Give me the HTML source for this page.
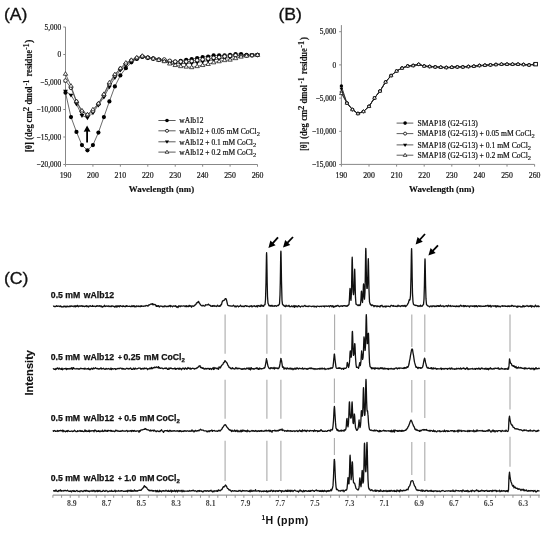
<!DOCTYPE html>
<html><head><meta charset="utf-8"><title>CD and NMR figure</title>
<style>html,body{margin:0;padding:0;background:#fff;}svg{display:block;}</style></head>
<body><svg width="550" height="533" viewBox="0 0 550 533"><text transform="translate(3.9,20.1) scale(1.04,1)" font-family="'Liberation Sans', Arial, sans-serif" font-size="17" fill="#111" stroke="#111" stroke-width="0.3">(A)</text>
<text transform="translate(278.4,20.1) scale(1.04,1)" font-family="'Liberation Sans', Arial, sans-serif" font-size="17" fill="#111" stroke="#111" stroke-width="0.3">(B)</text>
<line x1="65.5" y1="27.00" x2="65.5" y2="164.5" stroke="#888" stroke-width="1"/><line x1="65.5" y1="164.5" x2="257.51" y2="164.5" stroke="#888" stroke-width="1"/><line x1="63.3" y1="27.00" x2="65.5" y2="27.00" stroke="#888" stroke-width="1"/><text x="61.1" y="29.60" text-anchor="end" font-family="'Liberation Serif', 'Times New Roman', serif" font-size="7.4" fill="#222" stroke="#222" stroke-width="0.22">5,000</text><line x1="63.3" y1="54.50" x2="65.5" y2="54.50" stroke="#888" stroke-width="1"/><text x="61.1" y="57.10" text-anchor="end" font-family="'Liberation Serif', 'Times New Roman', serif" font-size="7.4" fill="#222" stroke="#222" stroke-width="0.22">0</text><line x1="63.3" y1="82.00" x2="65.5" y2="82.00" stroke="#888" stroke-width="1"/><text x="61.1" y="84.60" text-anchor="end" font-family="'Liberation Serif', 'Times New Roman', serif" font-size="7.4" fill="#222" stroke="#222" stroke-width="0.22">−5,000</text><line x1="63.3" y1="109.50" x2="65.5" y2="109.50" stroke="#888" stroke-width="1"/><text x="61.1" y="112.10" text-anchor="end" font-family="'Liberation Serif', 'Times New Roman', serif" font-size="7.4" fill="#222" stroke="#222" stroke-width="0.22">−10,000</text><line x1="63.3" y1="137.00" x2="65.5" y2="137.00" stroke="#888" stroke-width="1"/><text x="61.1" y="139.60" text-anchor="end" font-family="'Liberation Serif', 'Times New Roman', serif" font-size="7.4" fill="#222" stroke="#222" stroke-width="0.22">−15,000</text><line x1="63.3" y1="164.50" x2="65.5" y2="164.50" stroke="#888" stroke-width="1"/><text x="61.1" y="167.10" text-anchor="end" font-family="'Liberation Serif', 'Times New Roman', serif" font-size="7.4" fill="#222" stroke="#222" stroke-width="0.22">−20,000</text><line x1="65.50" y1="164.5" x2="65.50" y2="166.7" stroke="#888" stroke-width="1"/><text x="65.50" y="177.8" text-anchor="middle" font-family="'Liberation Serif', 'Times New Roman', serif" font-size="7.8" fill="#222" stroke="#222" stroke-width="0.22">190</text><line x1="92.93" y1="164.5" x2="92.93" y2="166.7" stroke="#888" stroke-width="1"/><text x="92.93" y="177.8" text-anchor="middle" font-family="'Liberation Serif', 'Times New Roman', serif" font-size="7.8" fill="#222" stroke="#222" stroke-width="0.22">200</text><line x1="120.36" y1="164.5" x2="120.36" y2="166.7" stroke="#888" stroke-width="1"/><text x="120.36" y="177.8" text-anchor="middle" font-family="'Liberation Serif', 'Times New Roman', serif" font-size="7.8" fill="#222" stroke="#222" stroke-width="0.22">210</text><line x1="147.79" y1="164.5" x2="147.79" y2="166.7" stroke="#888" stroke-width="1"/><text x="147.79" y="177.8" text-anchor="middle" font-family="'Liberation Serif', 'Times New Roman', serif" font-size="7.8" fill="#222" stroke="#222" stroke-width="0.22">220</text><line x1="175.22" y1="164.5" x2="175.22" y2="166.7" stroke="#888" stroke-width="1"/><text x="175.22" y="177.8" text-anchor="middle" font-family="'Liberation Serif', 'Times New Roman', serif" font-size="7.8" fill="#222" stroke="#222" stroke-width="0.22">230</text><line x1="202.65" y1="164.5" x2="202.65" y2="166.7" stroke="#888" stroke-width="1"/><text x="202.65" y="177.8" text-anchor="middle" font-family="'Liberation Serif', 'Times New Roman', serif" font-size="7.8" fill="#222" stroke="#222" stroke-width="0.22">240</text><line x1="230.08" y1="164.5" x2="230.08" y2="166.7" stroke="#888" stroke-width="1"/><text x="230.08" y="177.8" text-anchor="middle" font-family="'Liberation Serif', 'Times New Roman', serif" font-size="7.8" fill="#222" stroke="#222" stroke-width="0.22">250</text><line x1="257.51" y1="164.5" x2="257.51" y2="166.7" stroke="#888" stroke-width="1"/><text x="257.51" y="177.8" text-anchor="middle" font-family="'Liberation Serif', 'Times New Roman', serif" font-size="7.8" fill="#222" stroke="#222" stroke-width="0.22">260</text>
<line x1="341.4" y1="25.10" x2="341.4" y2="164.4" stroke="#888" stroke-width="1"/><line x1="341.4" y1="164.4" x2="534.60" y2="164.4" stroke="#888" stroke-width="1"/><line x1="339.2" y1="31.70" x2="341.4" y2="31.70" stroke="#888" stroke-width="1"/><text x="336.2" y="34.30" text-anchor="end" font-family="'Liberation Serif', 'Times New Roman', serif" font-size="7.3" fill="#222" stroke="#222" stroke-width="0.22">5,000</text><line x1="339.2" y1="64.90" x2="341.4" y2="64.90" stroke="#888" stroke-width="1"/><text x="336.2" y="67.50" text-anchor="end" font-family="'Liberation Serif', 'Times New Roman', serif" font-size="7.3" fill="#222" stroke="#222" stroke-width="0.22">0</text><line x1="339.2" y1="98.10" x2="341.4" y2="98.10" stroke="#888" stroke-width="1"/><text x="336.2" y="100.70" text-anchor="end" font-family="'Liberation Serif', 'Times New Roman', serif" font-size="7.3" fill="#222" stroke="#222" stroke-width="0.22">−5,000</text><line x1="339.2" y1="131.30" x2="341.4" y2="131.30" stroke="#888" stroke-width="1"/><text x="336.2" y="133.90" text-anchor="end" font-family="'Liberation Serif', 'Times New Roman', serif" font-size="7.3" fill="#222" stroke="#222" stroke-width="0.22">−10,000</text><line x1="339.2" y1="164.50" x2="341.4" y2="164.50" stroke="#888" stroke-width="1"/><text x="336.2" y="167.10" text-anchor="end" font-family="'Liberation Serif', 'Times New Roman', serif" font-size="7.3" fill="#222" stroke="#222" stroke-width="0.22">−15,000</text><line x1="341.40" y1="164.4" x2="341.40" y2="166.6" stroke="#888" stroke-width="1"/><text x="341.40" y="177.8" text-anchor="middle" font-family="'Liberation Serif', 'Times New Roman', serif" font-size="7.8" fill="#222" stroke="#222" stroke-width="0.22">190</text><line x1="369.00" y1="164.4" x2="369.00" y2="166.6" stroke="#888" stroke-width="1"/><text x="369.00" y="177.8" text-anchor="middle" font-family="'Liberation Serif', 'Times New Roman', serif" font-size="7.8" fill="#222" stroke="#222" stroke-width="0.22">200</text><line x1="396.60" y1="164.4" x2="396.60" y2="166.6" stroke="#888" stroke-width="1"/><text x="396.60" y="177.8" text-anchor="middle" font-family="'Liberation Serif', 'Times New Roman', serif" font-size="7.8" fill="#222" stroke="#222" stroke-width="0.22">210</text><line x1="424.20" y1="164.4" x2="424.20" y2="166.6" stroke="#888" stroke-width="1"/><text x="424.20" y="177.8" text-anchor="middle" font-family="'Liberation Serif', 'Times New Roman', serif" font-size="7.8" fill="#222" stroke="#222" stroke-width="0.22">220</text><line x1="451.80" y1="164.4" x2="451.80" y2="166.6" stroke="#888" stroke-width="1"/><text x="451.80" y="177.8" text-anchor="middle" font-family="'Liberation Serif', 'Times New Roman', serif" font-size="7.8" fill="#222" stroke="#222" stroke-width="0.22">230</text><line x1="479.40" y1="164.4" x2="479.40" y2="166.6" stroke="#888" stroke-width="1"/><text x="479.40" y="177.8" text-anchor="middle" font-family="'Liberation Serif', 'Times New Roman', serif" font-size="7.8" fill="#222" stroke="#222" stroke-width="0.22">240</text><line x1="507.00" y1="164.4" x2="507.00" y2="166.6" stroke="#888" stroke-width="1"/><text x="507.00" y="177.8" text-anchor="middle" font-family="'Liberation Serif', 'Times New Roman', serif" font-size="7.8" fill="#222" stroke="#222" stroke-width="0.22">250</text><line x1="534.60" y1="164.4" x2="534.60" y2="166.6" stroke="#888" stroke-width="1"/><text x="534.60" y="177.8" text-anchor="middle" font-family="'Liberation Serif', 'Times New Roman', serif" font-size="7.8" fill="#222" stroke="#222" stroke-width="0.22">260</text>
<path d="M65.50,92.67L70.99,117.03L76.47,131.94L81.96,145.08L87.44,150.31L92.93,145.08L98.42,132.55L103.90,117.03L109.39,101.41L114.87,86.40L120.36,75.45L125.85,68.19L131.33,62.37L136.82,58.90L142.30,56.98L147.79,57.80L153.28,58.62L158.76,59.73L164.25,60.55L169.73,61.38L175.22,61.65L180.71,60.83L186.19,59.73L191.68,59.17L197.16,58.08L202.65,57.03L208.14,56.48L213.62,55.44L219.11,55.38L224.59,55.33L230.08,54.83L235.57,54.01L241.05,54.01L246.54,54.77L252.02,55.05L257.51,54.83" fill="none" stroke="#444" stroke-width="0.8"/><circle cx="65.50" cy="92.67" r="2.1" fill="#000"/><circle cx="70.99" cy="117.03" r="2.1" fill="#000"/><circle cx="76.47" cy="131.94" r="2.1" fill="#000"/><circle cx="81.96" cy="145.08" r="2.1" fill="#000"/><circle cx="87.44" cy="150.31" r="2.1" fill="#000"/><circle cx="92.93" cy="145.08" r="2.1" fill="#000"/><circle cx="98.42" cy="132.55" r="2.1" fill="#000"/><circle cx="103.90" cy="117.03" r="2.1" fill="#000"/><circle cx="109.39" cy="101.41" r="2.1" fill="#000"/><circle cx="114.87" cy="86.40" r="2.1" fill="#000"/><circle cx="120.36" cy="75.45" r="2.1" fill="#000"/><circle cx="125.85" cy="68.19" r="2.1" fill="#000"/><circle cx="131.33" cy="62.37" r="2.1" fill="#000"/><circle cx="136.82" cy="58.90" r="2.1" fill="#000"/><circle cx="142.30" cy="56.98" r="2.1" fill="#000"/><circle cx="147.79" cy="57.80" r="2.1" fill="#000"/><circle cx="153.28" cy="58.62" r="2.1" fill="#000"/><circle cx="158.76" cy="59.73" r="2.1" fill="#000"/><circle cx="164.25" cy="60.55" r="2.1" fill="#000"/><circle cx="169.73" cy="61.38" r="2.1" fill="#000"/><circle cx="175.22" cy="61.65" r="2.1" fill="#000"/><circle cx="180.71" cy="60.83" r="2.1" fill="#000"/><circle cx="186.19" cy="59.73" r="2.1" fill="#000"/><circle cx="191.68" cy="59.17" r="2.1" fill="#000"/><circle cx="197.16" cy="58.08" r="2.1" fill="#000"/><circle cx="202.65" cy="57.03" r="2.1" fill="#000"/><circle cx="208.14" cy="56.48" r="2.1" fill="#000"/><circle cx="213.62" cy="55.44" r="2.1" fill="#000"/><circle cx="219.11" cy="55.38" r="2.1" fill="#000"/><circle cx="224.59" cy="55.33" r="2.1" fill="#000"/><circle cx="230.08" cy="54.83" r="2.1" fill="#000"/><circle cx="235.57" cy="54.01" r="2.1" fill="#000"/><circle cx="241.05" cy="54.01" r="2.1" fill="#000"/><circle cx="246.54" cy="54.77" r="2.1" fill="#000"/><circle cx="252.02" cy="55.05" r="2.1" fill="#000"/><circle cx="257.51" cy="54.83" r="2.1" fill="#000"/>
<path d="M65.50,91.07L70.99,95.09L76.47,104.00L81.96,115.55L87.44,117.75L92.93,112.80L98.42,105.10L103.90,97.12L109.39,86.95L114.87,77.60L120.36,70.17L125.85,64.95L131.33,61.10L136.82,58.35L142.30,56.70L147.79,57.80L153.28,58.62L158.76,59.73L164.25,60.83L169.73,62.86L175.22,63.69L180.71,63.69L186.19,63.41L191.68,63.13L197.16,62.31L202.65,61.48L208.14,60.66L213.62,59.84L219.11,59.01L224.59,58.19L230.08,57.63L235.57,56.15L241.05,55.60L246.54,55.33L252.02,55.05L257.51,54.77" fill="none" stroke="#444" stroke-width="0.8"/><path d="M63.09,89.63L67.92,89.63L65.50,93.49Z" fill="#000"/><path d="M68.57,93.64L73.40,93.64L70.99,97.51Z" fill="#000"/><path d="M74.06,102.55L78.89,102.55L76.47,106.42Z" fill="#000"/><path d="M79.54,114.10L84.37,114.10L81.96,117.97Z" fill="#000"/><path d="M85.03,116.30L89.86,116.30L87.44,120.17Z" fill="#000"/><path d="M90.52,111.35L95.35,111.35L92.93,115.22Z" fill="#000"/><path d="M96.00,103.65L100.83,103.65L98.42,107.52Z" fill="#000"/><path d="M101.49,95.68L106.32,95.68L103.90,99.54Z" fill="#000"/><path d="M106.97,85.50L111.80,85.50L109.39,89.36Z" fill="#000"/><path d="M112.46,76.15L117.29,76.15L114.87,80.02Z" fill="#000"/><path d="M117.94,68.73L122.78,68.73L120.36,72.59Z" fill="#000"/><path d="M123.43,63.50L128.26,63.50L125.85,67.37Z" fill="#000"/><path d="M128.92,59.65L133.75,59.65L131.33,63.52Z" fill="#000"/><path d="M134.40,56.90L139.23,56.90L136.82,60.77Z" fill="#000"/><path d="M139.89,55.25L144.72,55.25L142.30,59.12Z" fill="#000"/><path d="M145.38,56.35L150.20,56.35L147.79,60.21Z" fill="#000"/><path d="M150.86,57.18L155.69,57.18L153.28,61.04Z" fill="#000"/><path d="M156.35,58.28L161.18,58.28L158.76,62.14Z" fill="#000"/><path d="M161.83,59.38L166.66,59.38L164.25,63.24Z" fill="#000"/><path d="M167.32,61.41L172.15,61.41L169.73,65.28Z" fill="#000"/><path d="M172.81,62.24L177.63,62.24L175.22,66.10Z" fill="#000"/><path d="M178.29,62.24L183.12,62.24L180.71,66.10Z" fill="#000"/><path d="M183.78,61.96L188.61,61.96L186.19,65.83Z" fill="#000"/><path d="M189.26,61.69L194.09,61.69L191.68,65.55Z" fill="#000"/><path d="M194.75,60.86L199.58,60.86L197.16,64.73Z" fill="#000"/><path d="M200.24,60.04L205.06,60.04L202.65,63.90Z" fill="#000"/><path d="M205.72,59.21L210.55,59.21L208.14,63.07Z" fill="#000"/><path d="M211.21,58.39L216.04,58.39L213.62,62.25Z" fill="#000"/><path d="M216.69,57.56L221.52,57.56L219.11,61.42Z" fill="#000"/><path d="M222.18,56.74L227.01,56.74L224.59,60.60Z" fill="#000"/><path d="M227.66,56.19L232.49,56.19L230.08,60.05Z" fill="#000"/><path d="M233.15,54.70L237.98,54.70L235.57,58.56Z" fill="#000"/><path d="M238.64,54.15L243.47,54.15L241.05,58.02Z" fill="#000"/><path d="M244.12,53.88L248.95,53.88L246.54,57.74Z" fill="#000"/><path d="M249.61,53.60L254.44,53.60L252.02,57.46Z" fill="#000"/><path d="M255.09,53.33L259.93,53.33L257.51,57.19Z" fill="#000"/>
<path d="M65.50,80.57L70.99,87.83L76.47,101.80L81.96,111.70L87.44,115.00L92.93,111.15L98.42,104.00L103.90,95.20L109.39,84.20L114.87,75.40L120.36,68.80L125.85,63.85L131.33,60.55L136.82,58.08L142.30,56.42L147.79,57.52L153.28,58.35L158.76,59.45L164.25,59.45L169.73,60.83L175.22,61.65L180.71,61.65L186.19,61.65L191.68,61.10L197.16,60.27L202.65,59.45L208.14,58.62L213.62,57.80L219.11,57.25L224.59,56.42L230.08,55.88L235.57,55.33L241.05,55.88L246.54,55.60L252.02,55.33L257.51,55.05" fill="none" stroke="#444" stroke-width="0.8"/><circle cx="65.50" cy="80.57" r="1.8" fill="#fff" stroke="#000" stroke-width="0.8"/><circle cx="70.99" cy="87.83" r="1.8" fill="#fff" stroke="#000" stroke-width="0.8"/><circle cx="76.47" cy="101.80" r="1.8" fill="#fff" stroke="#000" stroke-width="0.8"/><circle cx="81.96" cy="111.70" r="1.8" fill="#fff" stroke="#000" stroke-width="0.8"/><circle cx="87.44" cy="115.00" r="1.8" fill="#fff" stroke="#000" stroke-width="0.8"/><circle cx="92.93" cy="111.15" r="1.8" fill="#fff" stroke="#000" stroke-width="0.8"/><circle cx="98.42" cy="104.00" r="1.8" fill="#fff" stroke="#000" stroke-width="0.8"/><circle cx="103.90" cy="95.20" r="1.8" fill="#fff" stroke="#000" stroke-width="0.8"/><circle cx="109.39" cy="84.20" r="1.8" fill="#fff" stroke="#000" stroke-width="0.8"/><circle cx="114.87" cy="75.40" r="1.8" fill="#fff" stroke="#000" stroke-width="0.8"/><circle cx="120.36" cy="68.80" r="1.8" fill="#fff" stroke="#000" stroke-width="0.8"/><circle cx="125.85" cy="63.85" r="1.8" fill="#fff" stroke="#000" stroke-width="0.8"/><circle cx="131.33" cy="60.55" r="1.8" fill="#fff" stroke="#000" stroke-width="0.8"/><circle cx="136.82" cy="58.08" r="1.8" fill="#fff" stroke="#000" stroke-width="0.8"/><circle cx="142.30" cy="56.42" r="1.8" fill="#fff" stroke="#000" stroke-width="0.8"/><circle cx="147.79" cy="57.52" r="1.8" fill="#fff" stroke="#000" stroke-width="0.8"/><circle cx="153.28" cy="58.35" r="1.8" fill="#fff" stroke="#000" stroke-width="0.8"/><circle cx="158.76" cy="59.45" r="1.8" fill="#fff" stroke="#000" stroke-width="0.8"/><circle cx="164.25" cy="59.45" r="1.8" fill="#fff" stroke="#000" stroke-width="0.8"/><circle cx="169.73" cy="60.83" r="1.8" fill="#fff" stroke="#000" stroke-width="0.8"/><circle cx="175.22" cy="61.65" r="1.8" fill="#fff" stroke="#000" stroke-width="0.8"/><circle cx="180.71" cy="61.65" r="1.8" fill="#fff" stroke="#000" stroke-width="0.8"/><circle cx="186.19" cy="61.65" r="1.8" fill="#fff" stroke="#000" stroke-width="0.8"/><circle cx="191.68" cy="61.10" r="1.8" fill="#fff" stroke="#000" stroke-width="0.8"/><circle cx="197.16" cy="60.27" r="1.8" fill="#fff" stroke="#000" stroke-width="0.8"/><circle cx="202.65" cy="59.45" r="1.8" fill="#fff" stroke="#000" stroke-width="0.8"/><circle cx="208.14" cy="58.62" r="1.8" fill="#fff" stroke="#000" stroke-width="0.8"/><circle cx="213.62" cy="57.80" r="1.8" fill="#fff" stroke="#000" stroke-width="0.8"/><circle cx="219.11" cy="57.25" r="1.8" fill="#fff" stroke="#000" stroke-width="0.8"/><circle cx="224.59" cy="56.42" r="1.8" fill="#fff" stroke="#000" stroke-width="0.8"/><circle cx="230.08" cy="55.88" r="1.8" fill="#fff" stroke="#000" stroke-width="0.8"/><circle cx="235.57" cy="55.33" r="1.8" fill="#fff" stroke="#000" stroke-width="0.8"/><circle cx="241.05" cy="55.88" r="1.8" fill="#fff" stroke="#000" stroke-width="0.8"/><circle cx="246.54" cy="55.60" r="1.8" fill="#fff" stroke="#000" stroke-width="0.8"/><circle cx="252.02" cy="55.33" r="1.8" fill="#fff" stroke="#000" stroke-width="0.8"/><circle cx="257.51" cy="55.05" r="1.8" fill="#fff" stroke="#000" stroke-width="0.8"/>
<path d="M65.50,73.91L70.99,85.85L76.47,101.25L81.96,110.60L87.44,114.45L92.93,109.50L98.42,103.45L103.90,94.10L109.39,82.55L114.87,74.30L120.36,68.25L125.85,62.75L131.33,60.00L136.82,57.52L142.30,55.88L147.79,57.52L153.28,58.62L158.76,60.00L164.25,61.38L169.73,63.69L175.22,65.22L180.71,66.33L186.19,66.82L191.68,67.37L197.16,66.33L202.65,65.22L208.14,64.12L213.62,62.53L219.11,61.43L224.59,60.33L230.08,59.84L235.57,58.35L241.05,56.81L246.54,55.88L252.02,55.33L257.51,55.05" fill="none" stroke="#444" stroke-width="0.8"/><path d="M63.30,75.24L67.70,75.24L65.50,71.71Z" fill="#fff" stroke="#000" stroke-width="0.7"/><path d="M68.78,87.17L73.19,87.17L70.99,83.64Z" fill="#fff" stroke="#000" stroke-width="0.7"/><path d="M74.27,102.57L78.68,102.57L76.47,99.05Z" fill="#fff" stroke="#000" stroke-width="0.7"/><path d="M79.75,111.92L84.16,111.92L81.96,108.39Z" fill="#fff" stroke="#000" stroke-width="0.7"/><path d="M85.24,115.77L89.65,115.77L87.44,112.24Z" fill="#fff" stroke="#000" stroke-width="0.7"/><path d="M90.73,110.82L95.14,110.82L92.93,107.30Z" fill="#fff" stroke="#000" stroke-width="0.7"/><path d="M96.21,104.77L100.62,104.77L98.42,101.24Z" fill="#fff" stroke="#000" stroke-width="0.7"/><path d="M101.70,95.42L106.11,95.42L103.90,91.89Z" fill="#fff" stroke="#000" stroke-width="0.7"/><path d="M107.18,83.87L111.59,83.87L109.39,80.34Z" fill="#fff" stroke="#000" stroke-width="0.7"/><path d="M112.67,75.62L117.08,75.62L114.87,72.09Z" fill="#fff" stroke="#000" stroke-width="0.7"/><path d="M118.16,69.57L122.56,69.57L120.36,66.05Z" fill="#fff" stroke="#000" stroke-width="0.7"/><path d="M123.64,64.07L128.05,64.07L125.85,60.55Z" fill="#fff" stroke="#000" stroke-width="0.7"/><path d="M129.13,61.32L133.54,61.32L131.33,57.80Z" fill="#fff" stroke="#000" stroke-width="0.7"/><path d="M134.61,58.85L139.02,58.85L136.82,55.32Z" fill="#fff" stroke="#000" stroke-width="0.7"/><path d="M140.10,57.20L144.51,57.20L142.30,53.67Z" fill="#fff" stroke="#000" stroke-width="0.7"/><path d="M145.58,58.85L150.00,58.85L147.79,55.32Z" fill="#fff" stroke="#000" stroke-width="0.7"/><path d="M151.07,59.95L155.48,59.95L153.28,56.42Z" fill="#fff" stroke="#000" stroke-width="0.7"/><path d="M156.56,61.32L160.97,61.32L158.76,57.80Z" fill="#fff" stroke="#000" stroke-width="0.7"/><path d="M162.04,62.70L166.45,62.70L164.25,59.17Z" fill="#fff" stroke="#000" stroke-width="0.7"/><path d="M167.53,65.01L171.94,65.01L169.73,61.48Z" fill="#fff" stroke="#000" stroke-width="0.7"/><path d="M173.01,66.55L177.43,66.55L175.22,63.02Z" fill="#fff" stroke="#000" stroke-width="0.7"/><path d="M178.50,67.65L182.91,67.65L180.71,64.12Z" fill="#fff" stroke="#000" stroke-width="0.7"/><path d="M183.99,68.14L188.40,68.14L186.19,64.61Z" fill="#fff" stroke="#000" stroke-width="0.7"/><path d="M189.47,68.69L193.88,68.69L191.68,65.17Z" fill="#fff" stroke="#000" stroke-width="0.7"/><path d="M194.96,67.65L199.37,67.65L197.16,64.12Z" fill="#fff" stroke="#000" stroke-width="0.7"/><path d="M200.44,66.55L204.86,66.55L202.65,63.02Z" fill="#fff" stroke="#000" stroke-width="0.7"/><path d="M205.93,65.45L210.34,65.45L208.14,61.92Z" fill="#fff" stroke="#000" stroke-width="0.7"/><path d="M211.42,63.85L215.83,63.85L213.62,60.33Z" fill="#fff" stroke="#000" stroke-width="0.7"/><path d="M216.90,62.75L221.31,62.75L219.11,59.23Z" fill="#fff" stroke="#000" stroke-width="0.7"/><path d="M222.39,61.65L226.80,61.65L224.59,58.12Z" fill="#fff" stroke="#000" stroke-width="0.7"/><path d="M227.87,61.16L232.28,61.16L230.08,57.63Z" fill="#fff" stroke="#000" stroke-width="0.7"/><path d="M233.36,59.67L237.77,59.67L235.57,56.15Z" fill="#fff" stroke="#000" stroke-width="0.7"/><path d="M238.85,58.13L243.26,58.13L241.05,54.61Z" fill="#fff" stroke="#000" stroke-width="0.7"/><path d="M244.33,57.20L248.74,57.20L246.54,53.67Z" fill="#fff" stroke="#000" stroke-width="0.7"/><path d="M249.82,56.65L254.23,56.65L252.02,53.12Z" fill="#fff" stroke="#000" stroke-width="0.7"/><path d="M255.30,56.37L259.71,56.37L257.51,52.84Z" fill="#fff" stroke="#000" stroke-width="0.7"/>
<path d="M341.40,86.02L346.92,103.01L352.44,109.59L357.96,113.57L363.48,111.51L369.00,106.40L374.52,97.97L380.04,91.00L385.56,82.03L391.08,75.59L396.60,71.01L402.12,68.02L407.64,66.03L413.16,65.56L418.68,64.37L424.20,66.03L429.72,66.56L435.24,66.89L440.76,67.22L446.28,67.56L451.80,67.22L457.32,66.89L462.84,66.89L468.36,66.56L473.88,66.23L479.40,65.56L484.92,65.23L490.44,64.90L495.96,64.57L501.48,64.24L507.00,64.24L512.52,64.24L518.04,64.24L523.56,64.57L529.08,64.90L534.60,64.24" fill="none" stroke="#222" stroke-width="0.8"/><circle cx="341.40" cy="86.02" r="1.7" fill="#000"/><circle cx="346.92" cy="103.01" r="1.7" fill="#000"/><circle cx="352.44" cy="109.59" r="1.7" fill="#000"/><circle cx="357.96" cy="113.57" r="1.7" fill="#000"/><circle cx="363.48" cy="111.51" r="1.7" fill="#000"/><circle cx="369.00" cy="106.40" r="1.7" fill="#000"/><circle cx="374.52" cy="97.97" r="1.7" fill="#000"/><circle cx="380.04" cy="91.00" r="1.7" fill="#000"/><circle cx="385.56" cy="82.03" r="1.7" fill="#000"/><circle cx="391.08" cy="75.59" r="1.7" fill="#000"/><circle cx="396.60" cy="71.01" r="1.7" fill="#000"/><circle cx="402.12" cy="68.02" r="1.7" fill="#000"/><circle cx="407.64" cy="66.03" r="1.7" fill="#000"/><circle cx="413.16" cy="65.56" r="1.7" fill="#000"/><circle cx="418.68" cy="64.37" r="1.7" fill="#000"/><circle cx="424.20" cy="66.03" r="1.7" fill="#000"/><circle cx="429.72" cy="66.56" r="1.7" fill="#000"/><circle cx="435.24" cy="66.89" r="1.7" fill="#000"/><circle cx="440.76" cy="67.22" r="1.7" fill="#000"/><circle cx="446.28" cy="67.56" r="1.7" fill="#000"/><circle cx="451.80" cy="67.22" r="1.7" fill="#000"/><circle cx="457.32" cy="66.89" r="1.7" fill="#000"/><circle cx="462.84" cy="66.89" r="1.7" fill="#000"/><circle cx="468.36" cy="66.56" r="1.7" fill="#000"/><circle cx="473.88" cy="66.23" r="1.7" fill="#000"/><circle cx="479.40" cy="65.56" r="1.7" fill="#000"/><circle cx="484.92" cy="65.23" r="1.7" fill="#000"/><circle cx="490.44" cy="64.90" r="1.7" fill="#000"/><circle cx="495.96" cy="64.57" r="1.7" fill="#000"/><circle cx="501.48" cy="64.24" r="1.7" fill="#000"/><circle cx="507.00" cy="64.24" r="1.7" fill="#000"/><circle cx="512.52" cy="64.24" r="1.7" fill="#000"/><circle cx="518.04" cy="64.24" r="1.7" fill="#000"/><circle cx="523.56" cy="64.57" r="1.7" fill="#000"/><circle cx="529.08" cy="64.90" r="1.7" fill="#000"/><circle cx="534.60" cy="64.24" r="1.7" fill="#000"/>
<path d="M341.40,91.99L346.92,103.01L352.44,109.59L357.96,113.57L363.48,111.51L369.00,106.40L374.52,97.97L380.04,91.00L385.56,82.03L391.08,75.59L396.60,71.01L402.12,68.02L407.64,66.03L413.16,65.56L418.68,64.37L424.20,66.03L429.72,66.56L435.24,66.89L440.76,67.22L446.28,67.56L451.80,67.22L457.32,66.89L462.84,66.89L468.36,66.56L473.88,66.23L479.40,65.56L484.92,65.23L490.44,64.90L495.96,64.57L501.48,64.24L507.00,64.24L512.52,64.24L518.04,64.24L523.56,64.57L529.08,64.90L534.60,64.24" fill="none" stroke="#222" stroke-width="0.8"/><circle cx="341.40" cy="91.99" r="1.3" fill="#fff" stroke="#000" stroke-width="0.8"/><circle cx="346.92" cy="103.01" r="1.3" fill="#fff" stroke="#000" stroke-width="0.8"/><circle cx="352.44" cy="109.59" r="1.3" fill="#fff" stroke="#000" stroke-width="0.8"/><circle cx="357.96" cy="113.57" r="1.3" fill="#fff" stroke="#000" stroke-width="0.8"/><circle cx="363.48" cy="111.51" r="1.3" fill="#fff" stroke="#000" stroke-width="0.8"/><circle cx="369.00" cy="106.40" r="1.3" fill="#fff" stroke="#000" stroke-width="0.8"/><circle cx="374.52" cy="97.97" r="1.3" fill="#fff" stroke="#000" stroke-width="0.8"/><circle cx="380.04" cy="91.00" r="1.3" fill="#fff" stroke="#000" stroke-width="0.8"/><circle cx="385.56" cy="82.03" r="1.3" fill="#fff" stroke="#000" stroke-width="0.8"/><circle cx="391.08" cy="75.59" r="1.3" fill="#fff" stroke="#000" stroke-width="0.8"/><circle cx="396.60" cy="71.01" r="1.3" fill="#fff" stroke="#000" stroke-width="0.8"/><circle cx="402.12" cy="68.02" r="1.3" fill="#fff" stroke="#000" stroke-width="0.8"/><circle cx="407.64" cy="66.03" r="1.3" fill="#fff" stroke="#000" stroke-width="0.8"/><circle cx="413.16" cy="65.56" r="1.3" fill="#fff" stroke="#000" stroke-width="0.8"/><circle cx="418.68" cy="64.37" r="1.3" fill="#fff" stroke="#000" stroke-width="0.8"/><circle cx="424.20" cy="66.03" r="1.3" fill="#fff" stroke="#000" stroke-width="0.8"/><circle cx="429.72" cy="66.56" r="1.3" fill="#fff" stroke="#000" stroke-width="0.8"/><circle cx="435.24" cy="66.89" r="1.3" fill="#fff" stroke="#000" stroke-width="0.8"/><circle cx="440.76" cy="67.22" r="1.3" fill="#fff" stroke="#000" stroke-width="0.8"/><circle cx="446.28" cy="67.56" r="1.3" fill="#fff" stroke="#000" stroke-width="0.8"/><circle cx="451.80" cy="67.22" r="1.3" fill="#fff" stroke="#000" stroke-width="0.8"/><circle cx="457.32" cy="66.89" r="1.3" fill="#fff" stroke="#000" stroke-width="0.8"/><circle cx="462.84" cy="66.89" r="1.3" fill="#fff" stroke="#000" stroke-width="0.8"/><circle cx="468.36" cy="66.56" r="1.3" fill="#fff" stroke="#000" stroke-width="0.8"/><circle cx="473.88" cy="66.23" r="1.3" fill="#fff" stroke="#000" stroke-width="0.8"/><circle cx="479.40" cy="65.56" r="1.3" fill="#fff" stroke="#000" stroke-width="0.8"/><circle cx="484.92" cy="65.23" r="1.3" fill="#fff" stroke="#000" stroke-width="0.8"/><circle cx="490.44" cy="64.90" r="1.3" fill="#fff" stroke="#000" stroke-width="0.8"/><circle cx="495.96" cy="64.57" r="1.3" fill="#fff" stroke="#000" stroke-width="0.8"/><circle cx="501.48" cy="64.24" r="1.3" fill="#fff" stroke="#000" stroke-width="0.8"/><circle cx="507.00" cy="64.24" r="1.3" fill="#fff" stroke="#000" stroke-width="0.8"/><circle cx="512.52" cy="64.24" r="1.3" fill="#fff" stroke="#000" stroke-width="0.8"/><circle cx="518.04" cy="64.24" r="1.3" fill="#fff" stroke="#000" stroke-width="0.8"/><circle cx="523.56" cy="64.57" r="1.3" fill="#fff" stroke="#000" stroke-width="0.8"/><circle cx="529.08" cy="64.90" r="1.3" fill="#fff" stroke="#000" stroke-width="0.8"/><circle cx="534.60" cy="64.24" r="1.3" fill="#fff" stroke="#000" stroke-width="0.8"/>
<path d="M341.40,88.80L346.92,103.01L352.44,109.59L357.96,113.57L363.48,111.51L369.00,106.40L374.52,97.97L380.04,91.00L385.56,82.03L391.08,75.59L396.60,71.01L402.12,68.02L407.64,66.03L413.16,65.56L418.68,64.37L424.20,66.03L429.72,66.56L435.24,66.89L440.76,67.22L446.28,67.56L451.80,67.22L457.32,66.89L462.84,66.89L468.36,66.56L473.88,66.23L479.40,65.56L484.92,65.23L490.44,64.90L495.96,64.57L501.48,64.24L507.00,64.24L512.52,64.24L518.04,64.24L523.56,64.57L529.08,64.90L534.60,64.24" fill="none" stroke="#222" stroke-width="0.8"/><path d="M339.56,87.70L343.24,87.70L341.40,90.64Z" fill="#000"/><path d="M345.08,101.91L348.76,101.91L346.92,104.85Z" fill="#000"/><path d="M350.60,108.48L354.28,108.48L352.44,111.43Z" fill="#000"/><path d="M356.12,112.47L359.80,112.47L357.96,115.41Z" fill="#000"/><path d="M361.64,110.41L365.32,110.41L363.48,113.35Z" fill="#000"/><path d="M367.16,105.30L370.84,105.30L369.00,108.24Z" fill="#000"/><path d="M372.68,96.86L376.36,96.86L374.52,99.81Z" fill="#000"/><path d="M378.20,89.89L381.88,89.89L380.04,92.84Z" fill="#000"/><path d="M383.72,80.93L387.40,80.93L385.56,83.87Z" fill="#000"/><path d="M389.24,74.49L392.92,74.49L391.08,77.43Z" fill="#000"/><path d="M394.76,69.90L398.44,69.90L396.60,72.85Z" fill="#000"/><path d="M400.28,66.92L403.96,66.92L402.12,69.86Z" fill="#000"/><path d="M405.80,64.92L409.48,64.92L407.64,67.87Z" fill="#000"/><path d="M411.32,64.46L415.00,64.46L413.16,67.40Z" fill="#000"/><path d="M416.84,63.26L420.52,63.26L418.68,66.21Z" fill="#000"/><path d="M422.36,64.92L426.04,64.92L424.20,67.87Z" fill="#000"/><path d="M427.88,65.46L431.56,65.46L429.72,68.40Z" fill="#000"/><path d="M433.40,65.79L437.08,65.79L435.24,68.73Z" fill="#000"/><path d="M438.92,66.12L442.60,66.12L440.76,69.06Z" fill="#000"/><path d="M444.44,66.45L448.12,66.45L446.28,69.40Z" fill="#000"/><path d="M449.96,66.12L453.64,66.12L451.80,69.06Z" fill="#000"/><path d="M455.48,65.79L459.16,65.79L457.32,68.73Z" fill="#000"/><path d="M461.00,65.79L464.68,65.79L462.84,68.73Z" fill="#000"/><path d="M466.52,65.46L470.20,65.46L468.36,68.40Z" fill="#000"/><path d="M472.04,65.12L475.72,65.12L473.88,68.07Z" fill="#000"/><path d="M477.56,64.46L481.24,64.46L479.40,67.40Z" fill="#000"/><path d="M483.08,64.13L486.76,64.13L484.92,67.07Z" fill="#000"/><path d="M488.60,63.80L492.28,63.80L490.44,66.74Z" fill="#000"/><path d="M494.12,63.46L497.80,63.46L495.96,66.41Z" fill="#000"/><path d="M499.64,63.13L503.32,63.13L501.48,66.08Z" fill="#000"/><path d="M505.16,63.13L508.84,63.13L507.00,66.08Z" fill="#000"/><path d="M510.68,63.13L514.36,63.13L512.52,66.08Z" fill="#000"/><path d="M516.20,63.13L519.88,63.13L518.04,66.08Z" fill="#000"/><path d="M521.72,63.46L525.40,63.46L523.56,66.41Z" fill="#000"/><path d="M527.24,63.80L530.92,63.80L529.08,66.74Z" fill="#000"/><path d="M532.76,63.13L536.44,63.13L534.60,66.08Z" fill="#000"/>
<path d="M341.40,93.45L346.92,103.01L352.44,109.59L357.96,113.57L363.48,111.51L369.00,106.40L374.52,97.97L380.04,91.00L385.56,82.03L391.08,75.59L396.60,71.01L402.12,68.02L407.64,66.03L413.16,65.56L418.68,64.37L424.20,66.03L429.72,66.56L435.24,66.89L440.76,67.22L446.28,67.56L451.80,67.22L457.32,66.89L462.84,66.89L468.36,66.56L473.88,66.23L479.40,65.56L484.92,65.23L490.44,64.90L495.96,64.57L501.48,64.24L507.00,64.24L512.52,64.24L518.04,64.24L523.56,64.57L529.08,64.90L534.60,64.24" fill="none" stroke="#222" stroke-width="0.8"/><path d="M339.51,94.59L343.29,94.59L341.40,91.56Z" fill="#fff" stroke="#000" stroke-width="0.7"/><path d="M345.03,104.15L348.81,104.15L346.92,101.12Z" fill="#fff" stroke="#000" stroke-width="0.7"/><path d="M350.55,110.72L354.33,110.72L352.44,107.70Z" fill="#fff" stroke="#000" stroke-width="0.7"/><path d="M356.07,114.71L359.85,114.71L357.96,111.68Z" fill="#fff" stroke="#000" stroke-width="0.7"/><path d="M361.59,112.65L365.37,112.65L363.48,109.62Z" fill="#fff" stroke="#000" stroke-width="0.7"/><path d="M367.11,107.53L370.89,107.53L369.00,104.51Z" fill="#fff" stroke="#000" stroke-width="0.7"/><path d="M372.63,99.10L376.41,99.10L374.52,96.08Z" fill="#fff" stroke="#000" stroke-width="0.7"/><path d="M378.15,92.13L381.93,92.13L380.04,89.11Z" fill="#fff" stroke="#000" stroke-width="0.7"/><path d="M383.67,83.17L387.45,83.17L385.56,80.14Z" fill="#fff" stroke="#000" stroke-width="0.7"/><path d="M389.19,76.72L392.97,76.72L391.08,73.70Z" fill="#fff" stroke="#000" stroke-width="0.7"/><path d="M394.71,72.14L398.49,72.14L396.60,69.12Z" fill="#fff" stroke="#000" stroke-width="0.7"/><path d="M400.23,69.15L404.01,69.15L402.12,66.13Z" fill="#fff" stroke="#000" stroke-width="0.7"/><path d="M405.75,67.16L409.53,67.16L407.64,64.14Z" fill="#fff" stroke="#000" stroke-width="0.7"/><path d="M411.27,66.70L415.05,66.70L413.16,63.67Z" fill="#fff" stroke="#000" stroke-width="0.7"/><path d="M416.79,65.50L420.57,65.50L418.68,62.48Z" fill="#fff" stroke="#000" stroke-width="0.7"/><path d="M422.31,67.16L426.09,67.16L424.20,64.14Z" fill="#fff" stroke="#000" stroke-width="0.7"/><path d="M427.83,67.69L431.61,67.69L429.72,64.67Z" fill="#fff" stroke="#000" stroke-width="0.7"/><path d="M433.35,68.03L437.13,68.03L435.24,65.00Z" fill="#fff" stroke="#000" stroke-width="0.7"/><path d="M438.87,68.36L442.65,68.36L440.76,65.33Z" fill="#fff" stroke="#000" stroke-width="0.7"/><path d="M444.39,68.69L448.17,68.69L446.28,65.67Z" fill="#fff" stroke="#000" stroke-width="0.7"/><path d="M449.91,68.36L453.69,68.36L451.80,65.33Z" fill="#fff" stroke="#000" stroke-width="0.7"/><path d="M455.43,68.03L459.21,68.03L457.32,65.00Z" fill="#fff" stroke="#000" stroke-width="0.7"/><path d="M460.95,68.03L464.73,68.03L462.84,65.00Z" fill="#fff" stroke="#000" stroke-width="0.7"/><path d="M466.47,67.69L470.25,67.69L468.36,64.67Z" fill="#fff" stroke="#000" stroke-width="0.7"/><path d="M471.99,67.36L475.77,67.36L473.88,64.34Z" fill="#fff" stroke="#000" stroke-width="0.7"/><path d="M477.51,66.70L481.29,66.70L479.40,63.67Z" fill="#fff" stroke="#000" stroke-width="0.7"/><path d="M483.03,66.37L486.81,66.37L484.92,63.34Z" fill="#fff" stroke="#000" stroke-width="0.7"/><path d="M488.55,66.03L492.33,66.03L490.44,63.01Z" fill="#fff" stroke="#000" stroke-width="0.7"/><path d="M494.07,65.70L497.85,65.70L495.96,62.68Z" fill="#fff" stroke="#000" stroke-width="0.7"/><path d="M499.59,65.37L503.37,65.37L501.48,62.35Z" fill="#fff" stroke="#000" stroke-width="0.7"/><path d="M505.11,65.37L508.89,65.37L507.00,62.35Z" fill="#fff" stroke="#000" stroke-width="0.7"/><path d="M510.63,65.37L514.41,65.37L512.52,62.35Z" fill="#fff" stroke="#000" stroke-width="0.7"/><path d="M516.15,65.37L519.93,65.37L518.04,62.35Z" fill="#fff" stroke="#000" stroke-width="0.7"/><path d="M521.67,65.70L525.45,65.70L523.56,62.68Z" fill="#fff" stroke="#000" stroke-width="0.7"/><path d="M527.19,66.03L530.97,66.03L529.08,63.01Z" fill="#fff" stroke="#000" stroke-width="0.7"/><path d="M532.71,65.37L536.49,65.37L534.60,62.35Z" fill="#fff" stroke="#000" stroke-width="0.7"/>
<rect x="533.9" y="62.4" width="3.5" height="3.5" fill="#fff" stroke="#000" stroke-width="0.9"/>
<path d="M86.2,142.5L86.2,131.5L83.7,131.8L87.1,125.4L90.5,131.8L88,131.5L88,142.5Z" fill="#000"/>
<text transform="translate(32.4,152.1) rotate(-90)" x="0" y="0" textLength="9.80" lengthAdjust="spacingAndGlyphs" font-family="'Liberation Serif', 'Times New Roman', serif" font-weight="bold" font-size="10.2" fill="#111" stroke="#111" stroke-width="0.15">[θ]</text><text transform="translate(32.4,139.8) rotate(-90)" x="0" y="0" textLength="15.60" lengthAdjust="spacingAndGlyphs" font-family="'Liberation Serif', 'Times New Roman', serif" font-weight="bold" font-size="10.2" fill="#111" stroke="#111" stroke-width="0.15">(deg</text><text transform="translate(32.4,122.4) rotate(-90)" x="0" y="0" textLength="11.00" lengthAdjust="spacingAndGlyphs" font-family="'Liberation Serif', 'Times New Roman', serif" font-weight="bold" font-size="10.2" fill="#111" stroke="#111" stroke-width="0.15">cm</text><text transform="translate(29.0,111.2) rotate(-90)" x="0" y="0" textLength="4.40" lengthAdjust="spacingAndGlyphs" font-family="'Liberation Serif', 'Times New Roman', serif" font-weight="bold" font-size="8.2" fill="#111" stroke="#111" stroke-width="0.15">2</text><text transform="translate(32.4,104.60000000000001) rotate(-90)" x="0" y="0" textLength="18.30" lengthAdjust="spacingAndGlyphs" font-family="'Liberation Serif', 'Times New Roman', serif" font-weight="bold" font-size="10.2" fill="#111" stroke="#111" stroke-width="0.15">dmol</text><text transform="translate(29.0,85.60000000000001) rotate(-90)" x="0" y="0" textLength="5.70" lengthAdjust="spacingAndGlyphs" font-family="'Liberation Serif', 'Times New Roman', serif" font-weight="bold" font-size="8.2" fill="#111" stroke="#111" stroke-width="0.15">-1</text><text transform="translate(32.4,76.60000000000001) rotate(-90)" x="0" y="0" textLength="26.60" lengthAdjust="spacingAndGlyphs" font-family="'Liberation Serif', 'Times New Roman', serif" font-weight="bold" font-size="10.2" fill="#111" stroke="#111" stroke-width="0.15">residue</text><text transform="translate(29.0,49.8) rotate(-90)" x="0" y="0" textLength="6.30" lengthAdjust="spacingAndGlyphs" font-family="'Liberation Serif', 'Times New Roman', serif" font-weight="bold" font-size="8.2" fill="#111" stroke="#111" stroke-width="0.15">-1</text><text transform="translate(32.4,43.0) rotate(-90)" x="0" y="0" textLength="3.50" lengthAdjust="spacingAndGlyphs" font-family="'Liberation Serif', 'Times New Roman', serif" font-weight="bold" font-size="10.2" fill="#111" stroke="#111" stroke-width="0.15">)</text>
<text transform="translate(306.9,150.70000000000002) rotate(-90)" x="0" y="0" textLength="8.70" lengthAdjust="spacingAndGlyphs" font-family="'Liberation Serif', 'Times New Roman', serif" font-weight="bold" font-size="9.9" fill="#111" stroke="#111" stroke-width="0.15">[θ]</text><text transform="translate(306.9,138.70000000000002) rotate(-90)" x="0" y="0" textLength="15.50" lengthAdjust="spacingAndGlyphs" font-family="'Liberation Serif', 'Times New Roman', serif" font-weight="bold" font-size="9.9" fill="#111" stroke="#111" stroke-width="0.15">(deg</text><text transform="translate(306.9,120.80000000000001) rotate(-90)" x="0" y="0" textLength="11.10" lengthAdjust="spacingAndGlyphs" font-family="'Liberation Serif', 'Times New Roman', serif" font-weight="bold" font-size="9.9" fill="#111" stroke="#111" stroke-width="0.15">cm</text><text transform="translate(303.7,109.9) rotate(-90)" x="0" y="0" textLength="4.40" lengthAdjust="spacingAndGlyphs" font-family="'Liberation Serif', 'Times New Roman', serif" font-weight="bold" font-size="8.2" fill="#111" stroke="#111" stroke-width="0.15">2</text><text transform="translate(306.9,103.4) rotate(-90)" x="0" y="0" textLength="18.60" lengthAdjust="spacingAndGlyphs" font-family="'Liberation Serif', 'Times New Roman', serif" font-weight="bold" font-size="9.9" fill="#111" stroke="#111" stroke-width="0.15">dmol</text><text transform="translate(303.7,83.4) rotate(-90)" x="0" y="0" textLength="5.80" lengthAdjust="spacingAndGlyphs" font-family="'Liberation Serif', 'Times New Roman', serif" font-weight="bold" font-size="8.2" fill="#111" stroke="#111" stroke-width="0.15">-1</text><text transform="translate(306.9,74.30000000000001) rotate(-90)" x="0" y="0" textLength="26.10" lengthAdjust="spacingAndGlyphs" font-family="'Liberation Serif', 'Times New Roman', serif" font-weight="bold" font-size="9.9" fill="#111" stroke="#111" stroke-width="0.15">residue</text><text transform="translate(303.7,47.8) rotate(-90)" x="0" y="0" textLength="6.70" lengthAdjust="spacingAndGlyphs" font-family="'Liberation Serif', 'Times New Roman', serif" font-weight="bold" font-size="8.2" fill="#111" stroke="#111" stroke-width="0.15">-1</text><text transform="translate(306.9,40.199999999999996) rotate(-90)" x="0" y="0" textLength="3.30" lengthAdjust="spacingAndGlyphs" font-family="'Liberation Serif', 'Times New Roman', serif" font-weight="bold" font-size="9.9" fill="#111" stroke="#111" stroke-width="0.15">)</text>
<text x="161.5" y="191.6" text-anchor="middle" font-family="'Liberation Serif', 'Times New Roman', serif" font-weight="bold" font-size="8.9" fill="#111" stroke="#111" stroke-width="0.15">Wavelength (nm)</text>
<text x="441.7" y="191.6" text-anchor="middle" font-family="'Liberation Serif', 'Times New Roman', serif" font-weight="bold" font-size="8.9" fill="#111" stroke="#111" stroke-width="0.15">Wavelength (nm)</text>
<line x1="158.4" y1="120.5" x2="175.6" y2="120.5" stroke="#333" stroke-width="0.8"/><circle cx="167.00" cy="120.50" r="1.8" fill="#000"/><text x="179.3" y="123.20" font-family="'Liberation Serif', 'Times New Roman', serif" font-size="7.5" fill="#111" stroke="#111" stroke-width="0.2">wAlb12</text><line x1="158.4" y1="130.8" x2="175.6" y2="130.8" stroke="#333" stroke-width="0.8"/><circle cx="167.00" cy="130.80" r="1.5" fill="#fff" stroke="#000" stroke-width="0.8"/><text x="179.3" y="133.50" font-family="'Liberation Serif', 'Times New Roman', serif" font-size="7.5" fill="#111" stroke="#111" stroke-width="0.2">wAlb12 + 0.05 mM CoCl<tspan font-size="6.4" dy="2.1">2</tspan></text><line x1="158.4" y1="141.8" x2="175.6" y2="141.8" stroke="#333" stroke-width="0.8"/><path d="M164.93,140.56L169.07,140.56L167.00,143.87Z" fill="#000"/><text x="179.3" y="144.50" font-family="'Liberation Serif', 'Times New Roman', serif" font-size="7.5" fill="#111" stroke="#111" stroke-width="0.2">wAlb12 + 0.1 mM CoCl<tspan font-size="6.4" dy="2.1">2</tspan></text><line x1="158.4" y1="152.1" x2="175.6" y2="152.1" stroke="#333" stroke-width="0.8"/><path d="M165.11,153.23L168.89,153.23L167.00,150.21Z" fill="#fff" stroke="#000" stroke-width="0.7"/><text x="179.3" y="154.80" font-family="'Liberation Serif', 'Times New Roman', serif" font-size="7.5" fill="#111" stroke="#111" stroke-width="0.2">wAlb12 + 0.2 mM CoCl<tspan font-size="6.4" dy="2.1">2</tspan></text>
<line x1="396.6" y1="123.1" x2="413.3" y2="123.1" stroke="#333" stroke-width="0.8"/><circle cx="405.10" cy="123.10" r="1.8" fill="#000"/><text x="417.6" y="125.80" font-family="'Liberation Serif', 'Times New Roman', serif" font-size="7.6" fill="#111" stroke="#111" stroke-width="0.2">SMAP18 (G2-G13)</text><line x1="396.6" y1="133.6" x2="413.3" y2="133.6" stroke="#333" stroke-width="0.8"/><circle cx="405.10" cy="133.60" r="1.5" fill="#fff" stroke="#000" stroke-width="0.8"/><text x="417.6" y="136.30" font-family="'Liberation Serif', 'Times New Roman', serif" font-size="7.6" fill="#111" stroke="#111" stroke-width="0.2">SMAP18 (G2-G13) + 0.05 mM CoCl<tspan font-size="6.4" dy="2.1">2</tspan></text><line x1="396.6" y1="144.9" x2="413.3" y2="144.9" stroke="#333" stroke-width="0.8"/><path d="M403.03,143.66L407.17,143.66L405.10,146.97Z" fill="#000"/><text x="417.6" y="147.60" font-family="'Liberation Serif', 'Times New Roman', serif" font-size="7.6" fill="#111" stroke="#111" stroke-width="0.2">SMAP18 (G2-G13) + 0.1 mM CoCl<tspan font-size="6.4" dy="2.1">2</tspan></text><line x1="396.6" y1="155.2" x2="413.3" y2="155.2" stroke="#333" stroke-width="0.8"/><path d="M403.21,156.33L406.99,156.33L405.10,153.31Z" fill="#fff" stroke="#000" stroke-width="0.7"/><text x="417.6" y="157.90" font-family="'Liberation Serif', 'Times New Roman', serif" font-size="7.6" fill="#111" stroke="#111" stroke-width="0.2">SMAP18 (G2-G13) + 0.2 mM CoCl<tspan font-size="6.4" dy="2.1">2</tspan></text>
<text transform="translate(3.9,284) scale(1.08,1)" font-family="'Liberation Sans', Arial, sans-serif" font-size="16.4" fill="#111" stroke="#111" stroke-width="0.3">(C)</text>
<text transform="translate(33.4,372.8) rotate(-90)" text-anchor="middle" font-family="'Liberation Sans', Arial, sans-serif" font-weight="bold" font-size="11.1" fill="#111" stroke="#111" stroke-width="0.15">Intensity</text>
<text x="261.5" y="524.2" font-family="'Liberation Sans', Arial, sans-serif" font-weight="bold" font-size="10.6" letter-spacing="0.45" fill="#111"><tspan font-size="6.5" dy="-4">1</tspan><tspan dy="4">H (ppm)</tspan></text>
<text transform="scale(1.0,1)" y="298.2" font-family="'Liberation Sans', Arial, sans-serif" font-weight="bold" font-size="8.7" fill="#111" stroke="#111" stroke-width="0.25"><tspan x="50.85">0.5</tspan><tspan x="65.25">mM</tspan><tspan x="83.75">wAlb12</tspan></text>
<text transform="scale(1.0,1)" y="360.2" font-family="'Liberation Sans', Arial, sans-serif" font-weight="bold" font-size="8.7" fill="#111" stroke="#111" stroke-width="0.25"><tspan x="50.75">0.5</tspan><tspan x="65.15">mM</tspan><tspan x="83.65">wAlb12</tspan><tspan x="118.00" font-size="6.6">+</tspan><tspan x="123.45">0.25</tspan><tspan x="143.85">mM</tspan><tspan x="161.25">CoCl</tspan><tspan font-size="6" dy="1.8">2</tspan></text>
<text transform="scale(1.0,1)" y="420.8" font-family="'Liberation Sans', Arial, sans-serif" font-weight="bold" font-size="8.7" fill="#111" stroke="#111" stroke-width="0.25"><tspan x="50.75">0.5</tspan><tspan x="65.15">mM</tspan><tspan x="83.65">wAlb12</tspan><tspan x="118.20" font-size="6.6">+</tspan><tspan x="124.15">0.5</tspan><tspan x="139.45">mM</tspan><tspan x="156.15">CoCl</tspan><tspan font-size="6" dy="1.8">2</tspan></text>
<text transform="scale(1.0,1)" y="480.8" font-family="'Liberation Sans', Arial, sans-serif" font-weight="bold" font-size="8.7" fill="#111" stroke="#111" stroke-width="0.25"><tspan x="50.75">0.5</tspan><tspan x="65.15">mM</tspan><tspan x="83.65">wAlb12</tspan><tspan x="118.10" font-size="6.6">+</tspan><tspan x="124.15">1.0</tspan><tspan x="139.45">mM</tspan><tspan x="156.15">CoCl</tspan><tspan font-size="6" dy="1.8">2</tspan></text>
<line x1="225.1" y1="314.5" x2="225.1" y2="353.7" stroke="#aaa" stroke-width="1.1"/>
<line x1="266.9" y1="314.5" x2="266.9" y2="353.7" stroke="#aaa" stroke-width="1.1"/>
<line x1="280.9" y1="314.5" x2="280.9" y2="353.7" stroke="#aaa" stroke-width="1.1"/>
<line x1="334.6" y1="314.5" x2="334.6" y2="350" stroke="#aaa" stroke-width="1.1"/>
<line x1="411.8" y1="314.5" x2="411.8" y2="347" stroke="#aaa" stroke-width="1.1"/>
<line x1="424.8" y1="314.5" x2="424.8" y2="352" stroke="#aaa" stroke-width="1.1"/>
<line x1="510" y1="314.5" x2="510" y2="351.8" stroke="#aaa" stroke-width="1.1"/>
<line x1="225.1" y1="379.8" x2="225.1" y2="418.8" stroke="#aaa" stroke-width="1.1"/>
<line x1="266.9" y1="379.8" x2="266.9" y2="418.8" stroke="#aaa" stroke-width="1.1"/>
<line x1="280.9" y1="379.8" x2="280.9" y2="418.8" stroke="#aaa" stroke-width="1.1"/>
<line x1="334.4" y1="378.4" x2="334.4" y2="403" stroke="#aaa" stroke-width="1.1"/>
<line x1="411.8" y1="380" x2="411.8" y2="412.5" stroke="#aaa" stroke-width="1.1"/>
<line x1="424.8" y1="380" x2="424.8" y2="418" stroke="#aaa" stroke-width="1.1"/>
<line x1="510" y1="376.8" x2="510" y2="409.5" stroke="#aaa" stroke-width="1.1"/>
<line x1="225.1" y1="440.7" x2="225.1" y2="481" stroke="#aaa" stroke-width="1.1"/>
<line x1="266.9" y1="440.7" x2="266.9" y2="481" stroke="#aaa" stroke-width="1.1"/>
<line x1="280.9" y1="440.7" x2="280.9" y2="481" stroke="#aaa" stroke-width="1.1"/>
<line x1="334.4" y1="438" x2="334.4" y2="455" stroke="#aaa" stroke-width="1.1"/>
<line x1="411.8" y1="442" x2="411.8" y2="475" stroke="#aaa" stroke-width="1.1"/>
<line x1="424.8" y1="442" x2="424.8" y2="481" stroke="#aaa" stroke-width="1.1"/>
<line x1="510" y1="436.8" x2="510" y2="466.8" stroke="#aaa" stroke-width="1.1"/>
<path d="M53.00,306.20L53.50,306.07L54.00,306.31L54.50,306.57L55.00,306.39L55.50,306.61L56.00,306.17L56.50,305.64L57.00,306.40L57.50,306.46L58.00,305.99L58.50,306.05L59.00,306.15L59.50,306.59L60.00,306.21L60.50,305.91L61.00,306.76L61.50,306.39L62.00,307.00L62.50,306.74L63.00,306.97L63.50,306.30L64.00,306.73L64.50,306.08L65.00,306.13L65.50,306.28L66.00,307.25L66.50,306.42L67.00,306.22L67.50,306.15L68.00,306.84L68.50,306.40L69.00,306.61L69.50,306.54L70.00,305.75L70.50,306.54L71.00,306.21L71.50,305.83L72.00,306.44L72.50,306.24L73.00,306.15L73.50,306.17L74.00,306.71L74.50,306.17L75.00,305.63L75.50,306.85L76.00,305.84L76.50,306.15L77.00,306.47L77.50,305.36L78.00,305.88L78.50,306.70L79.00,306.17L79.50,305.96L80.00,306.28L80.50,305.91L81.00,306.23L81.50,305.92L82.00,305.59L82.50,306.48L83.00,306.11L83.50,306.39L84.00,306.14L84.50,306.70L85.00,306.44L85.50,306.28L86.00,305.82L86.50,305.72L87.00,306.75L87.50,306.53L88.00,305.93L88.50,307.03L89.00,306.39L89.50,306.24L90.00,305.67L90.50,305.91L91.00,306.33L91.50,306.35L92.00,306.30L92.50,305.56L93.00,306.38L93.50,306.32L94.00,306.05L94.50,306.25L95.00,306.28L95.50,306.66L96.00,306.20L96.50,306.38L97.00,305.71L97.50,305.92L98.00,306.21L98.50,305.92L99.00,306.34L99.50,305.75L100.00,306.20L100.50,305.95L101.00,306.74L101.50,306.05L102.00,306.90L102.50,307.05L103.00,306.32L103.50,306.57L104.00,306.13L104.50,305.25L105.00,306.54L105.50,306.46L106.00,306.11L106.50,305.99L107.00,306.27L107.50,306.28L108.00,305.90L108.50,305.98L109.00,306.63L109.50,306.23L110.00,306.18L110.50,306.64L111.00,306.08L111.50,306.55L112.00,305.79L112.50,306.11L113.00,306.16L113.50,306.44L114.00,306.24L114.50,307.03L115.00,306.67L115.50,306.04L116.00,307.09L116.50,305.84L117.00,306.93L117.50,305.87L118.00,306.55L118.50,305.86L119.00,306.14L119.50,306.84L120.00,305.67L120.50,305.59L121.00,306.22L121.50,306.31L122.00,306.26L122.50,306.60L123.00,305.73L123.50,306.42L124.00,306.21L124.50,306.52L125.00,306.45L125.50,306.72L126.00,305.66L126.50,306.25L127.00,305.78L127.50,306.18L128.00,306.48L128.50,306.32L129.00,306.42L129.50,306.18L130.00,306.34L130.50,306.31L131.00,306.76L131.50,306.52L132.00,305.49L132.50,306.46L133.00,306.62L133.50,306.04L134.00,305.59L134.50,306.79L135.00,306.26L135.50,306.44L136.00,306.91L136.50,305.86L137.00,306.18L137.50,306.14L138.00,306.48L138.50,305.97L139.00,306.39L139.50,306.22L140.00,306.62L140.50,306.66L141.00,305.59L141.50,306.36L142.00,306.01L142.50,306.15L143.00,306.31L143.50,306.33L144.00,305.84L144.50,306.21L145.00,306.12L145.50,306.01L146.00,305.48L146.50,305.62L147.00,305.66L147.50,305.94L148.00,306.15L148.50,305.00L149.00,304.79L149.50,305.04L150.00,304.53L150.50,304.22L151.00,304.02L151.50,303.86L152.00,304.39L152.50,303.61L153.00,304.89L153.50,304.18L154.00,304.55L154.50,304.61L155.00,304.41L155.50,304.77L156.00,306.04L156.50,306.42L157.00,305.48L157.50,306.33L158.00,305.98L158.50,305.67L159.00,306.74L159.50,306.97L160.00,305.99L160.50,306.09L161.00,306.22L161.50,306.11L162.00,306.49L162.50,306.77L163.00,306.21L163.50,306.55L164.00,306.84L164.50,305.94L165.00,306.18L165.50,305.99L166.00,306.57L166.50,306.44L167.00,306.58L167.50,306.54L168.00,306.08L168.50,306.50L169.00,306.02L169.50,306.03L170.00,305.32L170.50,306.75L171.00,305.80L171.50,306.21L172.00,306.18L172.50,306.78L173.00,306.36L173.50,305.86L174.00,306.21L174.50,306.14L175.00,306.29L175.50,305.69L176.00,306.18L176.50,307.10L177.00,306.46L177.50,307.00L178.00,307.54L178.50,306.39L179.00,305.61L179.50,306.15L180.00,306.66L180.50,306.56L181.00,305.69L181.50,306.10L182.00,306.14L182.50,306.19L183.00,306.15L183.50,305.82L184.00,305.93L184.50,306.07L185.00,306.59L185.50,305.94L186.00,306.44L186.50,305.69L187.00,306.68L187.50,306.20L188.00,306.14L188.50,306.68L189.00,305.40L189.50,305.50L190.00,306.30L190.50,305.77L191.00,305.92L191.50,307.17L192.00,305.95L192.50,306.05L193.00,305.95L193.50,306.38L194.00,305.94L194.50,305.72L195.00,304.86L195.50,304.76L196.00,304.28L196.50,302.87L197.00,302.94L197.50,302.22L198.00,302.56L198.50,301.40L199.00,302.29L199.50,303.11L200.00,303.98L200.50,304.83L201.00,305.23L201.50,305.71L202.00,305.85L202.50,305.83L203.00,305.26L203.50,305.66L204.00,305.88L204.50,306.03L205.00,305.93L205.50,304.80L206.00,305.03L206.50,304.94L207.00,304.84L207.50,304.95L208.00,304.43L208.50,304.12L209.00,304.87L209.50,305.08L210.00,305.36L210.50,305.47L211.00,306.38L211.50,305.94L212.00,306.29L212.50,305.62L213.00,306.35L213.50,305.80L214.00,305.41L214.50,306.19L215.00,306.31L215.50,305.97L216.00,306.05L216.50,306.46L217.00,305.84L217.50,305.17L218.00,306.10L218.50,306.05L219.00,306.36L219.50,305.73L220.00,306.27L220.50,305.98L221.00,304.49L221.50,304.53L222.00,302.45L222.50,300.99L223.00,300.82L223.50,300.71L224.00,300.05L224.50,300.17L225.00,299.05L225.50,298.56L226.00,298.65L226.50,299.89L227.00,302.10L227.50,304.44L228.00,305.36L228.50,305.70L229.00,305.61L229.50,305.93L230.00,305.83L230.50,305.84L231.00,306.12L231.50,306.04L232.00,305.96L232.50,306.10L233.00,305.87L233.50,305.30L234.00,305.85L234.50,306.08L235.00,306.82L235.50,305.96L236.00,306.94L236.50,306.72L237.00,305.78L237.50,305.84L238.00,306.20L238.50,306.86L239.00,306.30L239.50,306.43L240.00,305.88L240.50,305.20L241.00,306.06L241.50,306.48L242.00,306.65L242.50,306.18L243.00,306.23L243.50,306.64L244.00,306.11L244.50,306.64L245.00,305.69L245.50,305.71L246.00,305.70L246.50,306.36L247.00,305.94L247.50,306.21L248.00,306.32L248.50,306.30L249.00,306.70L249.50,306.76L250.00,305.82L250.50,306.24L251.00,306.06L251.50,305.73L252.00,306.88L252.50,306.48L253.00,306.07L253.50,305.98L254.00,306.30L254.50,305.71L255.00,306.05L255.50,306.64L256.00,306.52L256.50,305.78L257.00,305.92L257.50,306.91L258.00,305.53L258.50,305.84L259.00,305.51L259.50,306.23L260.00,306.17L260.50,306.50L261.00,304.93L261.50,306.03L262.00,305.24L262.50,306.11L263.00,305.68L263.50,306.30L264.00,305.53L264.50,304.55L265.00,304.62L265.50,299.80L266.00,282.25L266.30,263.90L266.45,255.95L266.50,254.28L266.60,252.72L266.75,255.97L266.90,263.81L267.00,269.96L267.20,282.81L267.50,296.18L268.00,303.28L268.50,304.33L269.00,305.86L269.50,305.49L270.00,305.94L270.50,306.18L271.00,305.48L271.50,306.11L272.00,305.30L272.50,306.27L273.00,305.80L273.50,306.06L274.00,306.28L274.50,305.71L275.00,306.01L275.50,305.67L276.00,305.90L276.50,306.29L277.00,305.80L277.50,305.62L278.00,305.07L278.50,305.56L279.00,304.65L279.50,303.86L280.00,294.91L280.30,281.82L280.50,269.03L280.60,261.65L280.75,253.11L280.90,251.04L281.00,252.30L281.05,253.88L281.20,262.10L281.50,281.21L282.00,300.34L282.50,304.31L283.00,304.67L283.50,305.65L284.00,305.40L284.50,306.14L285.00,306.34L285.50,306.67L286.00,305.17L286.50,306.13L287.00,305.92L287.50,306.06L288.00,306.00L288.50,306.06L289.00,305.29L289.50,306.54L290.00,306.76L290.50,306.54L291.00,306.68L291.50,305.82L292.00,305.79L292.50,306.54L293.00,306.73L293.50,306.29L294.00,305.56L294.50,307.34L295.00,305.93L295.50,306.61L296.00,305.72L296.50,306.61L297.00,306.28L297.50,306.80L298.00,306.57L298.50,305.58L299.00,305.82L299.50,306.34L300.00,306.53L300.50,306.96L301.00,306.34L301.50,306.18L302.00,306.21L302.50,306.21L303.00,306.64L303.50,306.20L304.00,306.19L304.50,305.63L305.00,305.39L305.50,306.23L306.00,306.50L306.50,306.20L307.00,306.43L307.50,306.49L308.00,306.20L308.50,306.61L309.00,305.92L309.50,306.22L310.00,306.07L310.50,306.25L311.00,306.48L311.50,306.58L312.00,306.28L312.50,306.41L313.00,306.08L313.50,306.18L314.00,306.75L314.50,306.15L315.00,306.74L315.50,306.44L316.00,306.30L316.50,307.05L317.00,306.14L317.50,306.11L318.00,306.24L318.50,306.35L319.00,306.33L319.50,306.59L320.00,306.29L320.50,306.41L321.00,306.14L321.50,306.68L322.00,306.07L322.50,306.11L323.00,306.23L323.50,306.36L324.00,305.94L324.50,306.87L325.00,305.98L325.50,306.07L326.00,306.05L326.50,306.01L327.00,306.44L327.50,306.28L328.00,305.90L328.50,305.98L329.00,306.08L329.50,306.80L330.00,305.94L330.50,305.67L331.00,305.74L331.50,306.06L332.00,306.81L332.50,305.76L333.00,306.22L333.50,307.22L334.00,305.99L334.50,306.77L335.00,306.69L335.50,306.41L336.00,305.61L336.50,306.29L337.00,306.02L337.50,305.40L338.00,305.46L338.50,306.17L339.00,306.22L339.50,306.64L340.00,306.40L340.50,305.92L341.00,305.93L341.50,306.04L342.00,305.66L342.50,306.39L343.00,306.07L343.50,305.73L344.00,305.77L344.50,305.55L345.00,305.80L345.50,306.07L346.00,305.74L346.50,306.26L347.00,306.45L347.50,305.40L348.00,305.48L348.50,304.99L349.00,304.54L349.40,299.38L349.50,297.46L349.70,292.97L349.85,290.55L350.00,288.44L350.15,288.97L350.30,291.91L350.50,296.51L350.60,298.02L351.00,300.33L351.50,291.67L351.60,285.96L351.90,268.28L352.00,262.84L352.05,260.23L352.20,257.22L352.35,260.09L352.50,266.87L352.80,282.25L352.85,284.89L353.00,289.54L353.15,292.06L353.30,293.09L353.45,294.57L353.50,294.58L353.60,294.40L353.75,293.20L354.00,289.97L354.05,288.08L354.10,287.66L354.40,276.31L354.50,272.86L354.55,271.08L354.70,269.26L354.85,272.88L355.00,278.35L355.30,290.95L355.50,297.67L356.00,304.20L356.50,304.25L357.00,304.87L357.50,305.08L358.00,305.59L358.50,305.00L359.00,305.51L359.50,304.85L360.00,305.46L360.50,304.38L360.90,300.01L361.00,298.68L361.20,294.16L361.35,291.78L361.50,291.19L361.65,291.71L361.80,294.30L362.00,297.47L362.10,299.71L362.50,302.47L363.00,296.55L363.30,288.15L363.45,284.62L363.50,284.61L363.60,283.81L363.75,284.57L363.90,288.65L364.00,291.65L364.20,295.91L364.50,299.13L365.00,291.98L365.20,282.50L365.50,261.67L365.65,251.72L365.80,248.32L365.95,250.83L366.00,252.88L366.10,258.25L366.40,276.29L366.45,278.24L366.50,280.85L366.75,286.79L366.90,288.37L367.00,287.78L367.05,288.31L367.20,288.38L367.35,287.22L367.50,284.94L367.65,280.66L367.70,279.94L368.00,267.18L368.15,261.65L368.30,258.74L368.45,262.46L368.50,264.85L368.60,269.28L368.90,284.68L369.00,290.10L369.50,301.87L370.00,303.60L370.50,304.61L371.00,304.91L371.50,305.64L372.00,304.78L372.50,304.98L373.00,305.54L373.50,305.55L374.00,306.74L374.50,305.66L375.00,306.04L375.50,305.80L376.00,305.71L376.50,306.16L377.00,306.74L377.50,305.89L378.00,306.37L378.50,306.21L379.00,306.33L379.50,306.23L380.00,307.06L380.50,305.59L381.00,306.00L381.50,305.64L382.00,305.28L382.50,306.11L383.00,306.88L383.50,306.50L384.00,306.63L384.50,306.34L385.00,306.10L385.50,306.97L386.00,305.99L386.50,306.77L387.00,306.01L387.50,306.18L388.00,306.27L388.50,306.17L389.00,306.37L389.50,306.40L390.00,306.85L390.50,306.15L391.00,305.37L391.50,305.31L392.00,305.58L392.50,305.84L393.00,306.42L393.50,305.53L394.00,306.16L394.50,306.16L395.00,306.26L395.50,306.09L396.00,306.31L396.50,306.16L397.00,306.58L397.50,306.28L398.00,305.16L398.50,306.14L399.00,306.21L399.50,305.88L400.00,305.80L400.50,306.56L401.00,306.17L401.50,305.69L402.00,305.95L402.50,305.99L403.00,305.38L403.50,306.29L404.00,305.95L404.50,306.17L405.00,305.28L405.50,306.67L406.00,306.06L406.50,305.88L407.00,305.13L407.50,304.64L408.00,303.29L408.50,302.96L408.80,300.91L409.00,300.69L409.10,300.56L409.25,299.71L409.40,300.09L409.50,300.48L409.55,299.74L409.70,300.18L410.00,299.72L410.50,295.62L411.00,276.64L411.30,257.56L411.45,251.10L411.50,250.15L411.60,248.62L411.75,251.64L411.90,259.22L412.00,264.81L412.20,278.11L412.50,293.32L413.00,301.93L413.50,304.29L414.00,304.76L414.50,305.22L415.00,305.22L415.50,305.61L416.00,305.21L416.50,305.62L417.00,305.68L417.50,305.70L418.00,306.50L418.50,305.97L419.00,306.01L419.50,305.81L420.00,306.45L420.50,305.16L421.00,305.75L421.50,306.22L422.00,306.30L422.50,305.48L423.00,305.01L423.50,304.32L424.00,299.21L424.40,285.58L424.50,279.76L424.70,269.03L424.85,261.98L425.00,258.89L425.15,260.89L425.30,269.16L425.50,280.19L425.60,285.67L426.00,298.93L426.50,304.52L427.00,305.20L427.50,305.41L428.00,306.04L428.50,306.17L429.00,306.06L429.50,306.81L430.00,306.58L430.50,306.18L431.00,305.97L431.50,306.13L432.00,306.82L432.50,306.28L433.00,305.76L433.50,305.87L434.00,306.15L434.50,306.50L435.00,305.86L435.50,306.38L436.00,306.63L436.50,306.48L437.00,305.54L437.50,306.06L438.00,305.67L438.50,306.36L439.00,305.76L439.50,306.41L440.00,306.23L440.50,305.12L441.00,305.84L441.50,306.38L442.00,306.20L442.50,306.03L443.00,305.66L443.50,306.38L444.00,306.90L444.50,306.29L445.00,306.17L445.50,306.13L446.00,305.62L446.50,306.04L447.00,305.84L447.50,306.64L448.00,305.82L448.50,305.30L449.00,305.86L449.50,306.08L450.00,306.12L450.50,305.43L451.00,306.57L451.50,306.23L452.00,305.99L452.50,305.87L453.00,306.37L453.50,306.06L454.00,306.30L454.50,306.14L455.00,306.24L455.50,306.67L456.00,306.20L456.50,305.82L457.00,306.59L457.50,306.29L458.00,305.91L458.50,306.64L459.00,306.11L459.50,306.63L460.00,305.71L460.50,305.22L461.00,305.34L461.50,306.28L462.00,305.88L462.50,306.14L463.00,306.15L463.50,305.54L464.00,306.74L464.50,305.75L465.00,306.21L465.50,305.60L466.00,306.11L466.50,306.47L467.00,306.08L467.50,305.88L468.00,306.18L468.50,305.99L469.00,306.41L469.50,307.09L470.00,305.81L470.50,305.90L471.00,306.13L471.50,306.16L472.00,305.76L472.50,306.38L473.00,306.49L473.50,306.27L474.00,305.69L474.50,306.78L475.00,305.69L475.50,306.46L476.00,306.66L476.50,305.66L477.00,306.23L477.50,306.74L478.00,306.34L478.50,305.80L479.00,305.69L479.50,306.37L480.00,306.02L480.50,305.89L481.00,306.47L481.50,306.05L482.00,306.21L482.50,306.42L483.00,306.40L483.50,306.17L484.00,306.18L484.50,306.43L485.00,306.37L485.50,305.73L486.00,306.11L486.50,305.82L487.00,305.69L487.50,305.95L488.00,305.24L488.50,306.54L489.00,305.86L489.50,306.33L490.00,305.42L490.50,305.48L491.00,307.02L491.50,306.60L492.00,305.92L492.50,305.86L493.00,305.89L493.50,306.23L494.00,306.00L494.50,305.92L495.00,306.23L495.50,305.76L496.00,307.14L496.50,305.93L497.00,306.63L497.50,305.79L498.00,306.29L498.50,306.57L499.00,306.04L499.50,306.58L500.00,306.58L500.50,306.85L501.00,306.21L501.50,305.99L502.00,305.77L502.50,306.26L503.00,305.76L503.50,306.19L504.00,306.24L504.50,305.96L505.00,305.75L505.50,306.34L506.00,306.30L506.50,306.26L507.00,306.16L507.50,306.57L508.00,305.76L508.50,306.36L509.00,306.00L509.50,306.54L510.00,306.05L510.50,306.03L511.00,306.37L511.50,305.35L512.00,306.04L512.50,305.45L513.00,305.79L513.50,306.48L514.00,306.36L514.50,306.01L515.00,306.17L515.50,306.18L516.00,306.32L516.50,306.96L517.00,306.29L517.50,307.13L518.00,306.04L518.50,306.50L519.00,306.50L519.50,306.29L520.00,306.08L520.50,306.80L521.00,306.93L521.50,306.65L522.00,307.05L522.50,306.60L523.00,305.53L523.50,306.64L524.00,305.92L524.50,306.77L525.00,306.07L525.50,306.33L526.00,306.22L526.50,305.96L527.00,305.46L527.50,306.12L528.00,306.15L528.50,306.61L529.00,305.95L529.50,306.30L530.00,305.85L530.50,306.22L531.00,305.47L531.50,307.03L532.00,306.32L532.50,305.83L533.00,306.35L533.50,306.53L534.00,306.31L534.50,306.78L535.00,306.15L535.50,305.17L536.00,305.72L536.50,306.66L537.00,306.56L537.50,306.37L538.00,305.78L538.50,306.54L539.00,306.49L539.50,305.83" fill="none" stroke="#111" stroke-width="1.3" stroke-linejoin="round"/>
<path d="M53.00,368.33L53.50,368.86L54.00,369.17L54.50,369.35L55.00,368.99L55.50,369.63L56.00,368.38L56.50,368.96L57.00,368.50L57.50,367.91L58.00,368.21L58.50,369.18L59.00,368.33L59.50,368.21L60.00,369.01L60.50,369.10L61.00,368.74L61.50,369.37L62.00,368.08L62.50,369.71L63.00,369.16L63.50,368.81L64.00,368.79L64.50,368.63L65.00,368.58L65.50,368.79L66.00,368.22L66.50,369.60L67.00,368.70L67.50,369.00L68.00,368.64L68.50,368.60L69.00,369.08L69.50,368.97L70.00,368.36L70.50,368.55L71.00,368.98L71.50,367.84L72.00,367.73L72.50,369.31L73.00,368.57L73.50,367.64L74.00,368.37L74.50,368.60L75.00,368.78L75.50,368.92L76.00,368.79L76.50,368.93L77.00,368.38L77.50,368.86L78.00,368.88L78.50,369.20L79.00,368.72L79.50,369.07L80.00,368.77L80.50,368.26L81.00,368.54L81.50,368.49L82.00,368.55L82.50,368.67L83.00,368.75L83.50,368.83L84.00,368.38L84.50,369.15L85.00,368.13L85.50,368.68L86.00,369.01L86.50,368.90L87.00,368.98L87.50,368.63L88.00,369.00L88.50,368.22L89.00,369.03L89.50,369.65L90.00,369.00L90.50,369.54L91.00,368.71L91.50,368.25L92.00,368.42L92.50,369.26L93.00,369.02L93.50,367.95L94.00,368.56L94.50,368.69L95.00,368.25L95.50,367.67L96.00,368.15L96.50,368.64L97.00,368.55L97.50,368.44L98.00,368.95L98.50,369.14L99.00,368.67L99.50,369.09L100.00,368.72L100.50,368.66L101.00,367.71L101.50,369.05L102.00,368.75L102.50,368.76L103.00,368.51L103.50,368.26L104.00,368.90L104.50,369.04L105.00,369.38L105.50,369.08L106.00,368.47L106.50,368.68L107.00,369.12L107.50,368.85L108.00,368.68L108.50,368.48L109.00,368.94L109.50,368.80L110.00,369.46L110.50,369.18L111.00,368.02L111.50,369.61L112.00,368.84L112.50,368.60L113.00,368.85L113.50,369.03L114.00,368.72L114.50,368.70L115.00,368.73L115.50,369.48L116.00,368.76L116.50,369.05L117.00,368.92L117.50,368.60L118.00,368.42L118.50,368.32L119.00,368.90L119.50,368.31L120.00,368.20L120.50,368.22L121.00,368.11L121.50,368.75L122.00,368.77L122.50,368.35L123.00,369.27L123.50,368.60L124.00,368.91L124.50,368.85L125.00,369.42L125.50,369.07L126.00,368.70L126.50,368.32L127.00,368.27L127.50,368.72L128.00,368.77L128.50,369.04L129.00,368.52L129.50,368.79L130.00,368.43L130.50,367.95L131.00,368.70L131.50,369.32L132.00,369.05L132.50,369.30L133.00,369.19L133.50,368.14L134.00,368.59L134.50,369.32L135.00,368.41L135.50,368.16L136.00,368.84L136.50,368.97L137.00,368.82L137.50,368.56L138.00,368.41L138.50,368.18L139.00,368.17L139.50,368.18L140.00,368.11L140.50,368.40L141.00,369.32L141.50,368.73L142.00,368.54L142.50,368.83L143.00,368.29L143.50,368.82L144.00,369.05L144.50,368.05L145.00,368.38L145.50,368.56L146.00,368.26L146.50,368.20L147.00,368.50L147.50,369.66L148.00,368.91L148.50,368.80L149.00,369.00L149.50,368.48L150.00,368.03L150.50,368.68L151.00,368.89L151.50,367.48L152.00,368.41L152.50,368.61L153.00,367.85L153.50,367.61L154.00,367.91L154.50,367.13L155.00,367.53L155.50,367.62L156.00,367.12L156.50,366.91L157.00,367.59L157.50,367.32L158.00,367.66L158.50,366.60L159.00,368.24L159.50,367.51L160.00,368.24L160.50,368.38L161.00,368.11L161.50,368.10L162.00,367.99L162.50,368.42L163.00,368.84L163.50,368.83L164.00,368.40L164.50,368.38L165.00,368.05L165.50,368.47L166.00,368.20L166.50,368.01L167.00,368.58L167.50,369.28L168.00,369.15L168.50,369.26L169.00,367.99L169.50,369.02L170.00,368.15L170.50,368.42L171.00,367.95L171.50,368.25L172.00,368.71L172.50,368.75L173.00,368.63L173.50,368.60L174.00,368.89L174.50,368.69L175.00,368.00L175.50,369.39L176.00,368.56L176.50,369.05L177.00,368.59L177.50,368.32L178.00,368.70L178.50,368.35L179.00,369.34L179.50,368.21L180.00,368.92L180.50,368.41L181.00,368.59L181.50,369.76L182.00,368.99L182.50,368.58L183.00,368.01L183.50,368.55L184.00,368.56L184.50,369.26L185.00,368.06L185.50,367.90L186.00,368.65L186.50,368.75L187.00,369.34L187.50,368.28L188.00,367.52L188.50,368.35L189.00,368.11L189.50,368.41L190.00,369.05L190.50,368.07L191.00,369.14L191.50,368.71L192.00,368.49L192.50,368.23L193.00,368.41L193.50,368.40L194.00,368.85L194.50,369.02L195.00,368.36L195.50,368.55L196.00,368.59L196.50,368.29L197.00,367.59L197.50,367.74L198.00,367.11L198.50,366.91L199.00,366.02L199.50,366.05L200.00,365.70L200.50,367.59L201.00,367.67L201.50,367.36L202.00,368.13L202.50,368.38L203.00,367.66L203.50,368.60L204.00,369.00L204.50,369.09L205.00,368.42L205.50,368.44L206.00,369.15L206.50,369.00L207.00,368.36L207.50,368.35L208.00,368.86L208.50,368.33L209.00,368.35L209.50,369.34L210.00,368.72L210.50,368.41L211.00,368.82L211.50,369.48L212.00,368.69L212.50,368.25L213.00,367.90L213.50,369.47L214.00,367.44L214.50,369.00L215.00,368.11L215.50,367.98L216.00,368.07L216.50,368.40L217.00,368.92L217.50,368.13L218.00,368.65L218.50,369.34L219.00,366.99L219.50,367.73L220.00,367.04L220.50,367.86L221.00,366.40L221.50,365.74L222.00,364.97L222.50,364.70L223.00,364.16L223.50,362.66L224.00,362.56L224.50,361.66L225.00,360.66L225.50,361.37L226.00,361.70L226.50,362.63L227.00,362.84L227.50,364.15L228.00,365.65L228.50,365.90L229.00,367.35L229.50,367.62L230.00,367.42L230.50,368.55L231.00,368.30L231.50,368.84L232.00,368.30L232.50,367.71L233.00,368.75L233.50,368.37L234.00,368.86L234.50,368.99L235.00,369.04L235.50,367.93L236.00,367.56L236.50,368.36L237.00,368.87L237.50,368.28L238.00,368.73L238.50,368.26L239.00,368.48L239.50,368.49L240.00,368.36L240.50,368.86L241.00,368.79L241.50,369.35L242.00,368.81L242.50,369.23L243.00,368.69L243.50,369.04L244.00,368.60L244.50,368.45L245.00,369.24L245.50,368.98L246.00,369.04L246.50,368.33L247.00,367.93L247.50,368.29L248.00,368.80L248.50,368.03L249.00,369.29L249.50,368.02L250.00,368.93L250.50,369.82L251.00,367.54L251.50,367.99L252.00,369.08L252.50,368.58L253.00,368.74L253.50,368.61L254.00,369.27L254.50,368.93L255.00,368.45L255.50,368.55L256.00,368.14L256.50,368.61L257.00,367.65L257.50,368.93L258.00,368.52L258.50,369.43L259.00,369.14L259.50,368.05L260.00,369.00L260.50,368.37L261.00,368.60L261.50,368.99L262.00,368.68L262.50,368.71L263.00,368.65L263.50,368.05L264.00,367.94L264.50,368.06L265.00,367.18L265.50,364.61L266.00,361.86L266.30,359.88L266.45,358.74L266.50,359.42L266.60,359.71L266.75,359.93L266.90,360.67L267.00,361.12L267.20,362.24L267.50,363.77L268.00,366.28L268.50,367.19L269.00,368.26L269.50,368.39L270.00,368.92L270.50,367.77L271.00,368.28L271.50,367.77L272.00,368.21L272.50,367.93L273.00,368.66L273.50,368.26L274.00,367.43L274.50,369.07L275.00,368.06L275.50,367.83L276.00,368.34L276.50,368.17L277.00,367.92L277.50,368.69L278.00,368.14L278.50,368.49L279.00,367.90L279.50,366.59L280.00,363.94L280.40,361.30L280.50,360.56L280.70,360.36L280.85,358.42L281.00,358.60L281.15,358.96L281.30,359.91L281.50,360.80L281.60,361.13L282.00,363.71L282.50,367.06L283.00,367.30L283.50,366.88L284.00,369.12L284.50,367.99L285.00,368.32L285.50,368.57L286.00,367.96L286.50,369.08L287.00,368.52L287.50,367.97L288.00,368.70L288.50,368.80L289.00,368.58L289.50,368.83L290.00,367.97L290.50,369.03L291.00,368.27L291.50,369.19L292.00,368.36L292.50,368.70L293.00,369.77L293.50,368.66L294.00,369.12L294.50,368.85L295.00,368.00L295.50,369.15L296.00,369.12L296.50,368.04L297.00,368.62L297.50,368.00L298.00,368.53L298.50,369.05L299.00,368.70L299.50,368.14L300.00,368.26L300.50,368.67L301.00,368.65L301.50,368.72L302.00,368.92L302.50,367.84L303.00,368.67L303.50,369.16L304.00,368.88L304.50,368.36L305.00,368.39L305.50,368.73L306.00,368.96L306.50,368.66L307.00,369.39L307.50,369.23L308.00,368.33L308.50,368.88L309.00,368.51L309.50,368.14L310.00,368.39L310.50,368.66L311.00,367.75L311.50,368.38L312.00,368.82L312.50,368.35L313.00,368.49L313.50,369.04L314.00,368.64L314.50,368.74L315.00,369.51L315.50,368.74L316.00,368.79L316.50,368.85L317.00,369.37L317.50,368.81L318.00,368.68L318.50,368.62L319.00,369.15L319.50,368.38L320.00,369.18L320.50,368.75L321.00,368.09L321.50,368.95L322.00,368.87L322.50,368.18L323.00,368.81L323.50,368.77L324.00,368.54L324.50,368.18L325.00,369.58L325.50,368.98L326.00,369.05L326.50,369.08L327.00,368.97L327.50,368.95L328.00,368.45L328.50,368.95L329.00,368.49L329.50,368.35L330.00,368.81L330.50,368.39L331.00,367.68L331.50,368.15L332.00,368.40L332.50,367.72L333.00,366.67L333.50,362.39L333.80,358.68L334.00,357.06L334.10,355.79L334.25,354.12L334.40,354.41L334.50,354.30L334.55,355.04L334.70,356.04L335.00,359.26L335.50,363.44L336.00,367.20L336.50,368.12L337.00,368.41L337.50,368.37L338.00,368.09L338.50,368.34L339.00,367.58L339.50,368.38L340.00,367.87L340.50,368.37L341.00,368.23L341.50,369.09L342.00,368.53L342.50,368.50L343.00,368.56L343.50,369.34L344.00,368.04L344.50,368.53L345.00,368.50L345.50,368.34L346.00,368.15L346.50,367.12L346.80,366.39L347.00,364.80L347.10,363.53L347.25,362.64L347.40,362.46L347.50,362.68L347.55,362.98L347.70,363.52L348.00,365.03L348.50,367.48L349.00,365.82L349.50,362.28L349.70,359.65L350.00,353.34L350.15,351.90L350.30,350.83L350.45,350.96L350.50,350.99L350.60,352.02L350.70,353.34L350.90,355.39L351.00,357.13L351.15,356.60L351.30,357.10L351.45,355.47L351.50,354.68L351.60,353.19L351.80,347.96L351.90,344.43L352.00,340.40L352.10,336.60L352.25,332.35L352.40,331.32L352.50,331.95L352.55,332.88L352.70,336.45L353.00,347.62L353.30,352.77L353.45,354.93L353.50,355.32L353.60,355.16L353.75,354.83L353.90,354.50L354.00,353.41L354.20,351.26L354.50,345.68L354.65,343.72L354.80,343.74L354.95,344.33L355.00,345.65L355.10,347.64L355.40,355.27L355.50,357.30L356.00,364.28L356.50,367.35L357.00,367.07L357.50,367.39L358.00,367.47L358.50,368.35L359.00,366.33L359.10,365.55L359.40,364.36L359.50,363.45L359.55,364.26L359.70,362.62L359.85,363.38L360.00,363.34L360.30,365.72L360.50,364.78L361.00,360.88L361.30,355.10L361.45,353.49L361.50,352.80L361.60,350.96L361.75,352.53L361.90,353.85L362.00,354.81L362.20,357.19L362.30,357.01L362.45,357.54L362.50,358.74L362.60,359.42L362.75,358.39L362.90,358.22L363.00,357.86L363.20,355.50L363.40,352.20L363.50,349.19L363.70,343.76L363.85,339.96L364.00,336.89L364.15,337.80L364.30,338.55L364.50,343.08L364.60,345.09L364.75,346.66L364.90,347.94L365.00,349.36L365.05,350.40L365.20,350.06L365.50,345.51L365.70,339.04L366.00,324.05L366.15,317.00L366.30,314.64L366.45,317.01L366.50,318.20L366.60,322.22L366.80,330.72L366.90,334.85L367.00,337.76L367.10,340.47L367.25,343.66L367.40,343.53L367.50,343.14L367.55,343.07L367.70,341.41L367.80,340.64L368.00,337.16L368.10,334.53L368.25,333.35L368.40,333.61L368.50,333.44L368.55,335.14L368.70,339.06L369.00,349.88L369.50,362.31L370.00,366.41L370.50,367.17L371.00,367.32L371.50,368.72L372.00,367.63L372.50,368.57L373.00,368.62L373.50,367.96L374.00,368.34L374.50,369.00L375.00,367.61L375.50,368.78L376.00,368.34L376.50,368.38L377.00,367.89L377.50,368.69L378.00,368.09L378.50,368.84L379.00,368.06L379.50,368.86L380.00,368.70L380.50,367.76L381.00,368.43L381.50,368.52L382.00,367.63L382.50,368.43L383.00,368.92L383.50,368.28L384.00,369.08L384.50,368.12L385.00,368.09L385.50,368.83L386.00,368.86L386.50,368.52L387.00,368.59L387.50,369.01L388.00,368.36L388.50,369.46L389.00,368.78L389.50,368.77L390.00,368.71L390.50,368.47L391.00,369.11L391.50,368.34L392.00,368.67L392.50,368.86L393.00,369.16L393.50,369.08L394.00,368.43L394.50,368.98L395.00,368.54L395.50,368.12L396.00,368.13L396.50,367.90L397.00,368.67L397.50,369.00L398.00,368.10L398.50,368.39L399.00,368.04L399.50,368.49L400.00,367.98L400.50,368.11L401.00,368.15L401.50,368.22L402.00,368.24L402.50,368.28L403.00,368.25L403.50,367.90L404.00,368.48L404.50,367.49L405.00,368.20L405.50,367.66L406.00,368.00L406.50,367.91L407.00,366.71L407.50,367.30L408.00,367.05L408.50,365.78L409.00,364.04L409.50,360.82L410.00,358.85L410.50,355.35L411.00,353.00L411.50,349.99L412.00,348.92L412.50,349.38L413.00,352.86L413.50,355.47L414.00,358.79L414.50,362.13L415.00,363.89L415.50,365.56L416.00,367.45L416.50,366.87L417.00,367.28L417.50,367.93L418.00,368.45L418.50,367.36L419.00,367.93L419.50,367.65L420.00,367.50L420.50,368.31L421.00,367.72L421.50,368.07L422.00,367.77L422.50,367.17L423.00,365.76L423.50,362.86L424.00,360.21L424.30,358.84L424.45,358.46L424.50,358.12L424.60,358.58L424.75,358.57L424.90,358.82L425.00,359.46L425.20,360.34L425.50,362.42L426.00,364.15L426.50,366.25L427.00,367.51L427.50,368.09L428.00,367.32L428.50,368.19L429.00,368.42L429.50,368.30L430.00,368.34L430.50,367.90L431.00,368.52L431.50,367.65L432.00,368.92L432.50,368.27L433.00,368.99L433.50,367.82L434.00,368.73L434.50,368.62L435.00,368.21L435.50,368.08L436.00,369.08L436.50,368.76L437.00,369.21L437.50,368.57L438.00,368.67L438.50,368.78L439.00,368.92L439.50,368.80L440.00,368.95L440.50,368.42L441.00,368.01L441.50,369.46L442.00,368.70L442.50,368.83L443.00,368.45L443.50,369.05L444.00,368.72L444.50,369.09L445.00,368.37L445.50,368.62L446.00,368.73L446.50,368.51L447.00,368.77L447.50,369.32L448.00,368.42L448.50,368.55L449.00,368.73L449.50,368.26L450.00,368.16L450.50,369.13L451.00,369.00L451.50,368.02L452.00,368.08L452.50,368.98L453.00,369.17L453.50,368.94L454.00,368.88L454.50,369.34L455.00,368.66L455.50,369.21L456.00,369.19L456.50,368.29L457.00,368.97L457.50,368.71L458.00,368.41L458.50,368.34L459.00,368.82L459.50,368.66L460.00,369.03L460.50,367.95L461.00,368.41L461.50,369.15L462.00,368.68L462.50,368.38L463.00,368.48L463.50,367.91L464.00,368.11L464.50,368.91L465.00,368.72L465.50,369.22L466.00,368.58L466.50,368.62L467.00,367.55L467.50,368.64L468.00,369.56L468.50,368.97L469.00,368.64L469.50,369.21L470.00,369.05L470.50,368.84L471.00,368.54L471.50,368.76L472.00,369.06L472.50,368.36L473.00,368.91L473.50,368.90L474.00,369.27L474.50,369.02L475.00,368.41L475.50,369.37L476.00,368.72L476.50,368.39L477.00,368.85L477.50,368.59L478.00,369.16L478.50,368.14L479.00,368.23L479.50,368.59L480.00,369.43L480.50,369.13L481.00,368.28L481.50,367.97L482.00,368.57L482.50,368.17L483.00,368.95L483.50,368.77L484.00,368.69L484.50,368.51L485.00,369.33L485.50,368.30L486.00,368.14L486.50,369.17L487.00,369.26L487.50,368.54L488.00,368.97L488.50,369.69L489.00,368.35L489.50,368.63L490.00,368.89L490.50,367.80L491.00,368.63L491.50,369.01L492.00,368.65L492.50,369.13L493.00,369.01L493.50,368.53L494.00,368.93L494.50,368.88L495.00,367.99L495.50,368.33L496.00,368.36L496.50,368.47L497.00,368.49L497.50,368.08L498.00,368.70L498.50,367.91L499.00,369.09L499.50,368.80L500.00,369.27L500.50,368.84L501.00,368.48L501.50,368.08L502.00,368.97L502.50,368.69L503.00,368.84L503.50,369.00L504.00,369.19L504.50,368.67L505.00,369.42L505.50,368.65L506.00,368.69L506.50,368.97L507.00,369.12L507.50,369.28L508.00,367.91L508.50,369.18L509.00,365.67L509.50,358.83L510.00,360.98L510.50,363.12L511.00,363.41L511.50,363.96L512.00,365.68L512.50,365.86L513.00,365.64L513.50,366.23L514.00,365.77L514.50,367.05L515.00,366.76L515.50,367.67L516.00,366.40L516.50,367.71L517.00,368.45L517.50,367.68L518.00,367.78L518.50,367.00L519.00,368.02L519.50,367.96L520.00,367.77L520.50,367.41L521.00,368.16L521.50,367.74L522.00,368.01L522.50,368.39L523.00,368.27L523.50,368.32L524.00,368.75L524.50,367.89L525.00,369.00L525.50,367.95L526.00,368.07L526.50,368.53L527.00,368.83L527.50,368.62L528.00,368.34L528.50,368.24L529.00,368.44L529.50,368.16L530.00,368.82L530.50,368.50L531.00,369.26L531.50,368.29L532.00,368.56L532.50,368.80L533.00,368.14L533.50,368.35L534.00,369.83L534.50,368.63L535.00,369.26L535.50,368.21L536.00,367.61L536.50,368.88L537.00,368.63L537.50,368.77L538.00,368.52L538.50,368.40L539.00,368.13L539.50,369.09" fill="none" stroke="#111" stroke-width="1.3" stroke-linejoin="round"/>
<path d="M53.00,430.34L53.50,431.39L54.00,430.88L54.50,430.51L55.00,430.70L55.50,431.39L56.00,431.29L56.50,431.19L57.00,431.02L57.50,430.52L58.00,431.54L58.50,430.80L59.00,430.74L59.50,430.76L60.00,430.80L60.50,430.36L61.00,430.79L61.50,430.64L62.00,430.76L62.50,430.24L63.00,431.80L63.50,430.46L64.00,431.11L64.50,431.12L65.00,431.40L65.50,431.78L66.00,431.16L66.50,431.29L67.00,430.79L67.50,431.62L68.00,430.40L68.50,430.88L69.00,431.10L69.50,431.30L70.00,431.33L70.50,431.47L71.00,431.23L71.50,430.99L72.00,431.07L72.50,431.59L73.00,431.11L73.50,431.37L74.00,430.93L74.50,430.21L75.00,430.73L75.50,431.13L76.00,431.68L76.50,431.59L77.00,431.71L77.50,430.69L78.00,431.32L78.50,430.97L79.00,431.26L79.50,430.96L80.00,430.41L80.50,431.28L81.00,431.14L81.50,431.34L82.00,430.63L82.50,431.43L83.00,431.47L83.50,431.58L84.00,431.59L84.50,430.80L85.00,429.92L85.50,431.41L86.00,430.60L86.50,430.89L87.00,431.46L87.50,431.11L88.00,431.09L88.50,431.29L89.00,430.19L89.50,431.80L90.00,430.84L90.50,430.86L91.00,431.24L91.50,430.93L92.00,430.63L92.50,430.93L93.00,430.82L93.50,430.70L94.00,431.85L94.50,430.37L95.00,430.04L95.50,430.58L96.00,430.57L96.50,431.59L97.00,431.05L97.50,431.34L98.00,431.24L98.50,430.59L99.00,431.33L99.50,431.05L100.00,431.80L100.50,431.06L101.00,430.96L101.50,431.29L102.00,431.30L102.50,430.20L103.00,431.50L103.50,431.44L104.00,431.33L104.50,430.49L105.00,430.11L105.50,430.85L106.00,431.30L106.50,431.17L107.00,430.55L107.50,431.38L108.00,430.38L108.50,430.40L109.00,430.96L109.50,430.72L110.00,430.68L110.50,430.34L111.00,431.43L111.50,430.50L112.00,431.15L112.50,431.31L113.00,430.95L113.50,431.08L114.00,431.41L114.50,431.66L115.00,431.39L115.50,430.38L116.00,430.17L116.50,430.72L117.00,430.49L117.50,431.21L118.00,431.02L118.50,430.87L119.00,431.44L119.50,431.40L120.00,430.95L120.50,431.12L121.00,431.43L121.50,430.82L122.00,431.10L122.50,430.56L123.00,430.99L123.50,431.11L124.00,430.93L124.50,431.05L125.00,431.26L125.50,431.15L126.00,430.67L126.50,430.71L127.00,430.44L127.50,431.69L128.00,431.14L128.50,431.15L129.00,430.90L129.50,431.16L130.00,431.19L130.50,430.64L131.00,430.89L131.50,431.45L132.00,430.40L132.50,430.54L133.00,431.20L133.50,430.60L134.00,431.26L134.50,430.47L135.00,431.03L135.50,431.27L136.00,431.08L136.50,431.23L137.00,430.81L137.50,430.80L138.00,430.83L138.50,431.04L139.00,432.29L139.50,430.64L140.00,431.38L140.50,430.35L141.00,429.83L141.50,430.00L142.00,430.08L142.50,429.77L143.00,429.53L143.50,429.50L144.00,429.35L144.50,429.40L145.00,428.51L145.50,429.09L146.00,428.83L146.50,429.53L147.00,429.62L147.50,429.94L148.00,429.88L148.50,429.92L149.00,430.33L149.50,430.84L150.00,430.99L150.50,430.04L151.00,430.91L151.50,430.96L152.00,430.25L152.50,430.43L153.00,430.68L153.50,431.09L154.00,429.94L154.50,430.77L155.00,430.71L155.50,431.02L156.00,431.54L156.50,431.51L157.00,430.78L157.50,430.79L158.00,431.06L158.50,431.45L159.00,431.57L159.50,431.10L160.00,431.58L160.50,430.59L161.00,430.49L161.50,429.78L162.00,430.60L162.50,431.22L163.00,431.34L163.50,432.43L164.00,431.23L164.50,431.05L165.00,430.57L165.50,430.72L166.00,430.73L166.50,430.89L167.00,430.70L167.50,430.37L168.00,431.43L168.50,431.17L169.00,431.57L169.50,430.30L170.00,430.44L170.50,430.67L171.00,431.49L171.50,430.91L172.00,431.08L172.50,430.95L173.00,431.06L173.50,430.77L174.00,431.15L174.50,430.63L175.00,430.88L175.50,431.11L176.00,431.03L176.50,431.17L177.00,430.64L177.50,431.10L178.00,430.86L178.50,431.15L179.00,431.61L179.50,430.60L180.00,431.43L180.50,430.70L181.00,430.81L181.50,431.68L182.00,431.38L182.50,431.20L183.00,431.33L183.50,431.48L184.00,430.67L184.50,431.08L185.00,430.82L185.50,431.16L186.00,430.85L186.50,431.29L187.00,430.99L187.50,430.73L188.00,430.96L188.50,431.17L189.00,431.43L189.50,430.90L190.00,430.83L190.50,431.08L191.00,431.29L191.50,430.74L192.00,429.92L192.50,431.09L193.00,430.82L193.50,430.79L194.00,432.02L194.50,430.89L195.00,431.22L195.50,430.32L196.00,430.98L196.50,431.15L197.00,430.83L197.50,430.56L198.00,430.73L198.50,430.35L199.00,430.74L199.50,430.14L200.00,429.67L200.50,429.22L201.00,429.87L201.50,430.21L202.00,429.99L202.50,430.19L203.00,430.03L203.50,430.35L204.00,430.91L204.50,430.78L205.00,430.83L205.50,430.79L206.00,430.84L206.50,431.26L207.00,431.81L207.50,431.21L208.00,431.78L208.50,430.90L209.00,430.93L209.50,431.63L210.00,430.64L210.50,430.56L211.00,430.88L211.50,430.22L212.00,430.13L212.50,431.41L213.00,430.47L213.50,430.71L214.00,430.71L214.50,430.48L215.00,431.17L215.50,431.10L216.00,431.19L216.50,431.14L217.00,430.84L217.50,431.38L218.00,431.18L218.50,430.44L219.00,430.64L219.50,430.34L220.00,431.12L220.50,430.41L221.00,429.98L221.50,429.27L222.00,428.94L222.50,427.60L223.00,427.24L223.50,426.41L224.00,425.69L224.50,424.89L225.00,425.20L225.50,424.72L226.00,425.51L226.50,426.35L227.00,427.20L227.50,427.78L228.00,428.27L228.50,428.89L229.00,429.59L229.50,429.72L230.00,430.28L230.50,429.97L231.00,430.62L231.50,431.56L232.00,430.18L232.50,430.73L233.00,431.30L233.50,430.91L234.00,431.21L234.50,429.98L235.00,430.66L235.50,431.54L236.00,430.66L236.50,431.07L237.00,430.10L237.50,431.36L238.00,431.86L238.50,430.90L239.00,431.07L239.50,431.11L240.00,431.84L240.50,430.76L241.00,430.24L241.50,431.75L242.00,430.46L242.50,431.19L243.00,429.97L243.50,430.77L244.00,431.04L244.50,430.49L245.00,430.74L245.50,431.21L246.00,430.67L246.50,431.18L247.00,431.72L247.50,430.11L248.00,431.11L248.50,431.22L249.00,430.83L249.50,431.63L250.00,431.54L250.50,431.18L251.00,431.19L251.50,430.94L252.00,430.50L252.50,431.17L253.00,430.77L253.50,430.72L254.00,431.43L254.50,430.88L255.00,431.37L255.50,430.53L256.00,430.79L256.50,430.97L257.00,431.54L257.50,430.93L258.00,431.30L258.50,430.68L259.00,431.03L259.50,431.32L260.00,430.59L260.50,430.68L261.00,431.23L261.50,430.49L262.00,431.10L262.50,431.11L263.00,430.93L263.50,431.29L264.00,431.16L264.50,431.04L265.00,430.33L265.50,430.35L266.00,431.08L266.50,430.30L267.00,430.99L267.50,430.81L268.00,430.60L268.50,430.85L269.00,429.96L269.50,430.87L270.00,431.47L270.50,430.42L271.00,431.14L271.50,431.09L272.00,432.22L272.50,430.54L273.00,430.61L273.50,430.61L274.00,430.53L274.50,430.23L275.00,430.95L275.50,430.52L276.00,431.21L276.50,431.01L277.00,430.37L277.50,430.56L278.00,431.16L278.50,430.27L279.00,430.27L279.50,430.28L280.00,429.49L280.50,429.65L281.00,430.06L281.50,429.94L282.00,428.93L282.50,430.57L283.00,430.10L283.50,430.16L284.00,430.33L284.50,431.24L285.00,430.95L285.50,430.80L286.00,430.56L286.50,431.19L287.00,431.42L287.50,430.52L288.00,430.48L288.50,430.79L289.00,431.21L289.50,430.79L290.00,430.91L290.50,430.61L291.00,431.49L291.50,430.92L292.00,431.03L292.50,431.43L293.00,430.88L293.50,430.96L294.00,431.14L294.50,430.81L295.00,431.57L295.50,431.00L296.00,430.79L296.50,430.85L297.00,430.52L297.50,431.48L298.00,431.61L298.50,430.87L299.00,430.78L299.50,430.08L300.00,430.72L300.50,431.34L301.00,430.64L301.50,431.33L302.00,431.60L302.50,429.88L303.00,430.84L303.50,430.67L304.00,430.74L304.50,430.21L305.00,430.85L305.50,430.46L306.00,431.40L306.50,431.56L307.00,430.37L307.50,430.35L308.00,430.76L308.50,430.88L309.00,430.90L309.50,431.26L310.00,430.32L310.50,430.69L311.00,430.76L311.50,430.81L312.00,430.53L312.50,430.75L313.00,430.65L313.50,431.45L314.00,430.75L314.50,430.04L315.00,431.18L315.50,431.01L316.00,430.58L316.50,430.55L317.00,430.69L317.50,431.63L318.00,430.74L318.50,431.45L319.00,431.29L319.50,430.72L320.00,431.07L320.50,430.60L321.00,429.62L321.50,430.61L322.00,430.63L322.50,431.30L323.00,431.19L323.50,431.36L324.00,431.13L324.50,431.36L325.00,431.17L325.50,430.98L326.00,431.30L326.50,431.46L327.00,431.42L327.50,430.64L328.00,430.79L328.50,430.35L329.00,430.31L329.50,430.85L330.00,430.37L330.50,431.17L331.00,429.49L331.50,429.77L332.00,430.03L332.50,429.53L333.00,426.11L333.50,420.53L333.80,414.52L334.00,410.25L334.10,409.00L334.25,407.60L334.40,406.40L334.50,407.50L334.55,407.27L334.70,409.24L335.00,414.54L335.50,422.65L336.00,428.13L336.50,428.70L337.00,430.31L337.50,429.47L338.00,430.91L338.50,430.28L339.00,431.10L339.50,431.20L340.00,430.60L340.50,430.39L341.00,431.22L341.50,430.19L342.00,431.01L342.50,430.60L343.00,430.47L343.50,430.34L344.00,431.28L344.50,429.75L345.00,430.03L345.50,430.07L346.00,428.55L346.30,425.85L346.50,422.90L346.60,420.66L346.75,419.28L346.90,418.88L347.00,418.87L347.05,418.33L347.20,420.73L347.50,424.73L348.00,426.79L348.50,423.18L348.80,416.29L349.00,410.30L349.10,407.61L349.25,403.72L349.40,401.80L349.50,402.07L349.55,402.43L349.70,405.29L350.00,412.50L350.10,414.26L350.40,417.28L350.50,417.93L350.55,417.28L350.70,417.60L350.85,417.81L351.00,418.00L351.30,417.25L351.50,414.02L351.80,406.28L351.95,403.13L352.00,402.83L352.10,401.89L352.25,403.69L352.40,407.59L352.50,410.12L352.70,415.32L353.00,422.84L353.50,423.58L353.80,420.23L354.00,417.23L354.10,416.80L354.25,414.01L354.40,414.25L354.50,414.75L354.55,415.11L354.70,416.53L355.00,421.55L355.50,427.50L356.00,428.80L356.50,430.07L357.00,430.30L357.50,429.44L358.00,428.82L358.50,425.52L358.80,423.10L358.95,420.82L359.00,420.77L359.10,419.96L359.25,421.68L359.40,422.32L359.50,423.56L359.70,426.11L360.00,427.59L360.50,425.51L360.80,421.98L361.00,417.93L361.10,415.08L361.25,412.19L361.40,410.59L361.50,411.19L361.55,411.06L361.70,411.83L362.00,415.43L362.15,416.21L362.30,415.65L362.45,414.70L362.50,415.41L362.60,414.76L362.90,406.66L363.00,402.76L363.20,394.40L363.35,389.27L363.50,387.66L363.65,389.67L363.80,393.96L364.00,402.20L364.10,405.43L364.40,413.01L364.50,412.83L364.55,414.03L364.70,415.35L364.85,415.20L365.00,413.68L365.30,406.86L365.40,402.43L365.50,397.75L365.70,387.10L365.85,381.64L366.00,379.33L366.15,381.63L366.30,387.15L366.50,396.07L366.60,400.49L367.00,409.87L367.30,411.28L367.45,410.35L367.50,410.68L367.60,411.00L367.75,412.80L367.90,414.18L368.00,414.75L368.20,417.63L368.50,422.60L369.00,427.09L369.50,429.37L370.00,429.96L370.50,430.37L371.00,429.86L371.50,430.25L372.00,430.59L372.50,430.70L373.00,430.39L373.50,430.53L374.00,431.05L374.50,430.01L375.00,430.65L375.50,430.77L376.00,430.17L376.50,430.38L377.00,430.86L377.50,430.61L378.00,431.29L378.50,431.12L379.00,431.81L379.50,430.35L380.00,431.67L380.50,430.59L381.00,431.23L381.50,431.30L382.00,430.97L382.50,430.78L383.00,430.64L383.50,430.16L384.00,430.75L384.50,430.53L385.00,431.16L385.50,430.61L386.00,430.84L386.50,431.10L387.00,430.95L387.50,430.94L388.00,430.83L388.50,430.74L389.00,431.12L389.50,431.22L390.00,430.59L390.50,431.62L391.00,431.17L391.50,430.25L392.00,432.04L392.50,431.19L393.00,430.61L393.50,431.59L394.00,429.80L394.50,431.98L395.00,430.28L395.50,430.23L396.00,430.49L396.50,430.96L397.00,430.71L397.50,431.23L398.00,430.51L398.50,431.31L399.00,430.94L399.50,430.40L400.00,431.27L400.50,430.94L401.00,430.70L401.50,431.31L402.00,430.24L402.50,430.55L403.00,431.30L403.50,430.63L404.00,430.88L404.50,430.74L405.00,430.31L405.50,430.45L406.00,429.47L406.50,429.76L407.00,428.48L407.50,428.15L408.00,426.80L408.50,426.22L409.00,424.90L409.50,423.84L410.00,421.92L410.50,420.92L411.00,420.11L411.50,420.77L412.00,422.06L412.50,423.44L413.00,424.52L413.50,425.99L414.00,426.53L414.50,427.72L415.00,429.23L415.50,429.74L416.00,429.28L416.50,430.00L417.00,430.41L417.50,429.94L418.00,430.68L418.50,430.68L419.00,430.78L419.50,431.42L420.00,430.21L420.50,431.03L421.00,430.67L421.50,430.59L422.00,429.78L422.50,429.89L423.00,429.63L423.50,430.17L424.00,429.44L424.50,430.10L425.00,429.54L425.50,429.76L426.00,430.17L426.50,429.52L427.00,430.33L427.50,430.42L428.00,430.70L428.50,430.89L429.00,430.44L429.50,430.40L430.00,431.43L430.50,430.45L431.00,430.68L431.50,430.50L432.00,430.72L432.50,431.44L433.00,431.42L433.50,430.16L434.00,430.83L434.50,431.53L435.00,430.79L435.50,431.09L436.00,431.72L436.50,431.91L437.00,431.62L437.50,430.84L438.00,430.97L438.50,431.06L439.00,430.84L439.50,430.71L440.00,431.84L440.50,431.09L441.00,431.31L441.50,431.48L442.00,431.20L442.50,431.02L443.00,431.08L443.50,431.58L444.00,431.17L444.50,430.12L445.00,431.41L445.50,431.68L446.00,430.86L446.50,430.72L447.00,430.78L447.50,431.45L448.00,430.56L448.50,431.31L449.00,431.45L449.50,431.23L450.00,431.02L450.50,430.68L451.00,430.72L451.50,430.99L452.00,430.59L452.50,430.95L453.00,430.60L453.50,431.57L454.00,431.64L454.50,430.66L455.00,431.57L455.50,431.11L456.00,431.02L456.50,431.19L457.00,431.17L457.50,430.40L458.00,432.05L458.50,430.61L459.00,430.02L459.50,430.98L460.00,430.99L460.50,430.68L461.00,430.22L461.50,431.49L462.00,430.95L462.50,431.06L463.00,430.75L463.50,430.92L464.00,430.71L464.50,431.16L465.00,430.97L465.50,431.27L466.00,431.27L466.50,431.05L467.00,431.05L467.50,431.48L468.00,430.33L468.50,431.05L469.00,431.57L469.50,430.53L470.00,431.30L470.50,430.78L471.00,431.00L471.50,430.88L472.00,430.92L472.50,431.23L473.00,430.97L473.50,430.14L474.00,431.93L474.50,430.96L475.00,430.81L475.50,431.43L476.00,431.57L476.50,430.08L477.00,431.15L477.50,430.12L478.00,430.77L478.50,430.96L479.00,430.79L479.50,430.73L480.00,430.50L480.50,430.81L481.00,430.93L481.50,430.92L482.00,430.42L482.50,430.65L483.00,431.41L483.50,431.26L484.00,430.85L484.50,431.25L485.00,431.15L485.50,431.39L486.00,431.10L486.50,430.82L487.00,430.58L487.50,430.99L488.00,430.12L488.50,431.03L489.00,429.65L489.50,430.57L490.00,430.79L490.50,431.20L491.00,432.18L491.50,431.06L492.00,430.92L492.50,430.19L493.00,431.57L493.50,430.19L494.00,431.10L494.50,430.69L495.00,432.06L495.50,430.94L496.00,431.14L496.50,430.71L497.00,430.96L497.50,431.47L498.00,430.60L498.50,430.70L499.00,430.74L499.50,430.57L500.00,430.53L500.50,431.00L501.00,431.57L501.50,431.58L502.00,430.43L502.50,430.70L503.00,430.95L503.50,431.18L504.00,430.98L504.50,430.98L505.00,431.14L505.50,431.29L506.00,430.09L506.50,430.90L507.00,431.25L507.50,431.54L508.00,431.28L508.50,429.38L509.00,418.82L509.50,416.06L510.00,419.60L510.50,422.16L511.00,424.14L511.50,424.29L512.00,425.53L512.50,425.30L513.00,427.18L513.50,427.35L514.00,427.29L514.50,428.08L515.00,428.83L515.50,428.90L516.00,428.68L516.50,428.78L517.00,429.15L517.50,428.85L518.00,429.00L518.50,429.42L519.00,429.67L519.50,429.90L520.00,429.67L520.50,429.61L521.00,430.06L521.50,429.97L522.00,430.37L522.50,430.90L523.00,430.78L523.50,430.10L524.00,430.28L524.50,429.85L525.00,430.53L525.50,430.23L526.00,430.07L526.50,430.24L527.00,430.95L527.50,430.79L528.00,430.69L528.50,431.18L529.00,430.58L529.50,430.37L530.00,431.02L530.50,430.01L531.00,430.97L531.50,430.95L532.00,430.97L532.50,431.18L533.00,430.72L533.50,430.89L534.00,430.21L534.50,430.66L535.00,430.70L535.50,431.02L536.00,431.53L536.50,430.98L537.00,431.30L537.50,430.55L538.00,430.97L538.50,430.26L539.00,430.65L539.50,430.61" fill="none" stroke="#111" stroke-width="1.3" stroke-linejoin="round"/>
<path d="M53.00,490.90L53.50,490.91L54.00,490.72L54.50,490.61L55.00,491.30L55.50,490.79L56.00,489.90L56.50,491.04L57.00,491.11L57.50,491.29L58.00,491.61L58.50,490.50L59.00,490.97L59.50,490.87L60.00,490.22L60.50,489.94L61.00,491.37L61.50,490.55L62.00,490.74L62.50,490.83L63.00,490.80L63.50,491.01L64.00,490.33L64.50,490.74L65.00,490.85L65.50,490.47L66.00,490.62L66.50,490.80L67.00,490.86L67.50,490.26L68.00,490.78L68.50,491.03L69.00,491.36L69.50,491.14L70.00,491.44L70.50,490.95L71.00,490.89L71.50,491.86L72.00,490.99L72.50,490.72L73.00,490.93L73.50,491.40L74.00,490.46L74.50,491.29L75.00,491.51L75.50,491.45L76.00,491.00L76.50,490.58L77.00,490.51L77.50,490.91L78.00,491.50L78.50,491.27L79.00,491.37L79.50,491.07L80.00,491.74L80.50,490.95L81.00,490.72L81.50,491.06L82.00,490.80L82.50,491.39L83.00,491.61L83.50,491.26L84.00,490.51L84.50,490.56L85.00,491.19L85.50,490.49L86.00,491.13L86.50,490.36L87.00,490.79L87.50,491.19L88.00,490.66L88.50,491.32L89.00,491.39L89.50,491.60L90.00,490.89L90.50,491.02L91.00,491.03L91.50,491.17L92.00,490.39L92.50,491.17L93.00,491.30L93.50,490.47L94.00,490.40L94.50,490.85L95.00,491.73L95.50,491.25L96.00,490.74L96.50,490.99L97.00,490.34L97.50,491.57L98.00,490.71L98.50,491.26L99.00,490.44L99.50,491.03L100.00,490.56L100.50,491.27L101.00,491.59L101.50,491.46L102.00,491.25L102.50,491.42L103.00,490.49L103.50,490.43L104.00,490.88L104.50,491.43L105.00,491.04L105.50,491.28L106.00,490.38L106.50,490.86L107.00,490.79L107.50,491.16L108.00,491.84L108.50,491.31L109.00,491.46L109.50,490.84L110.00,490.95L110.50,491.33L111.00,491.15L111.50,490.33L112.00,491.39L112.50,491.37L113.00,491.08L113.50,491.28L114.00,491.17L114.50,490.76L115.00,490.26L115.50,491.73L116.00,490.99L116.50,490.97L117.00,491.02L117.50,491.06L118.00,491.13L118.50,490.56L119.00,491.18L119.50,491.04L120.00,490.98L120.50,490.94L121.00,491.05L121.50,490.56L122.00,490.98L122.50,490.91L123.00,491.00L123.50,491.40L124.00,491.32L124.50,491.42L125.00,490.89L125.50,491.27L126.00,491.42L126.50,490.87L127.00,490.75L127.50,491.71L128.00,490.25L128.50,490.95L129.00,491.00L129.50,490.51L130.00,490.93L130.50,491.21L131.00,490.03L131.50,491.40L132.00,490.98L132.50,490.58L133.00,491.38L133.50,490.97L134.00,490.76L134.50,489.90L135.00,491.28L135.50,490.91L136.00,490.61L136.50,490.83L137.00,491.36L137.50,490.66L138.00,490.75L138.50,490.57L139.00,490.21L139.50,490.16L140.00,490.28L140.50,490.11L141.00,490.42L141.50,489.64L142.00,489.02L142.50,488.74L143.00,487.95L143.50,487.76L144.00,486.29L144.50,485.75L145.00,486.79L145.50,486.69L146.00,487.41L146.50,487.34L147.00,488.28L147.50,488.98L148.00,489.59L148.50,489.83L149.00,490.61L149.50,490.13L150.00,490.86L150.50,490.45L151.00,490.69L151.50,490.33L152.00,490.83L152.50,490.42L153.00,491.25L153.50,490.62L154.00,490.98L154.50,490.82L155.00,490.88L155.50,490.52L156.00,491.77L156.50,490.79L157.00,491.56L157.50,490.43L158.00,491.77L158.50,491.37L159.00,491.65L159.50,490.26L160.00,491.50L160.50,490.91L161.00,491.18L161.50,491.72L162.00,491.11L162.50,490.69L163.00,491.04L163.50,490.57L164.00,491.12L164.50,490.97L165.00,491.13L165.50,490.83L166.00,490.18L166.50,490.82L167.00,490.89L167.50,491.24L168.00,491.29L168.50,490.36L169.00,491.45L169.50,491.36L170.00,491.02L170.50,491.16L171.00,490.16L171.50,491.97L172.00,490.83L172.50,490.68L173.00,491.45L173.50,491.25L174.00,490.80L174.50,490.30L175.00,491.37L175.50,491.65L176.00,490.58L176.50,490.34L177.00,491.12L177.50,491.91L178.00,490.37L178.50,491.07L179.00,490.51L179.50,491.00L180.00,491.14L180.50,491.17L181.00,490.37L181.50,490.38L182.00,491.88L182.50,491.38L183.00,490.24L183.50,491.14L184.00,491.56L184.50,490.98L185.00,491.03L185.50,491.03L186.00,491.19L186.50,491.11L187.00,491.18L187.50,490.84L188.00,491.33L188.50,491.11L189.00,491.04L189.50,490.44L190.00,490.83L190.50,491.03L191.00,490.76L191.50,490.81L192.00,490.53L192.50,490.77L193.00,490.23L193.50,490.42L194.00,491.00L194.50,491.16L195.00,490.61L195.50,490.76L196.00,491.02L196.50,491.60L197.00,491.75L197.50,490.83L198.00,490.65L198.50,490.64L199.00,491.52L199.50,490.54L200.00,491.20L200.50,490.81L201.00,490.80L201.50,491.31L202.00,491.22L202.50,491.84L203.00,491.36L203.50,491.73L204.00,490.78L204.50,490.94L205.00,490.58L205.50,490.81L206.00,491.23L206.50,490.82L207.00,491.12L207.50,490.70L208.00,490.82L208.50,491.37L209.00,490.95L209.50,490.92L210.00,491.07L210.50,490.56L211.00,490.22L211.50,491.09L212.00,491.07L212.50,491.87L213.00,490.97L213.50,491.09L214.00,491.81L214.50,490.77L215.00,490.64L215.50,491.18L216.00,491.02L216.50,491.25L217.00,490.51L217.50,491.44L218.00,490.90L218.50,489.91L219.00,490.65L219.50,490.38L220.00,490.51L220.50,490.74L221.00,489.98L221.50,489.41L222.00,489.51L222.50,488.33L223.00,487.24L223.50,486.57L224.00,486.97L224.50,486.14L225.00,486.11L225.50,485.01L226.00,485.57L226.50,486.14L227.00,487.54L227.50,488.40L228.00,488.57L228.50,489.15L229.00,490.03L229.50,489.97L230.00,490.02L230.50,490.38L231.00,491.04L231.50,491.57L232.00,490.85L232.50,490.71L233.00,490.92L233.50,491.01L234.00,491.14L234.50,490.56L235.00,490.90L235.50,490.83L236.00,491.30L236.50,491.16L237.00,490.84L237.50,491.34L238.00,491.45L238.50,491.07L239.00,490.43L239.50,490.86L240.00,490.33L240.50,491.00L241.00,491.08L241.50,491.53L242.00,491.19L242.50,490.35L243.00,490.82L243.50,490.65L244.00,490.66L244.50,490.97L245.00,491.05L245.50,490.92L246.00,490.69L246.50,490.78L247.00,490.76L247.50,490.91L248.00,491.29L248.50,491.08L249.00,491.37L249.50,490.55L250.00,491.86L250.50,491.07L251.00,489.97L251.50,491.12L252.00,491.45L252.50,490.99L253.00,490.44L253.50,491.05L254.00,490.72L254.50,490.94L255.00,491.14L255.50,489.66L256.00,490.95L256.50,491.21L257.00,491.19L257.50,490.82L258.00,490.81L258.50,490.66L259.00,490.92L259.50,491.58L260.00,490.76L260.50,491.11L261.00,491.10L261.50,491.61L262.00,491.23L262.50,491.29L263.00,491.00L263.50,491.60L264.00,490.96L264.50,490.93L265.00,491.46L265.50,491.25L266.00,491.35L266.50,490.60L267.00,492.05L267.50,491.13L268.00,491.68L268.50,491.17L269.00,490.63L269.50,491.25L270.00,490.93L270.50,491.34L271.00,490.17L271.50,490.60L272.00,490.51L272.50,491.54L273.00,491.45L273.50,490.53L274.00,491.07L274.50,491.10L275.00,490.85L275.50,491.51L276.00,490.66L276.50,490.98L277.00,490.79L277.50,491.27L278.00,490.77L278.50,491.28L279.00,490.59L279.50,490.51L280.00,490.60L280.50,490.77L281.00,490.72L281.50,492.12L282.00,490.64L282.50,491.10L283.00,490.95L283.50,491.11L284.00,491.57L284.50,491.21L285.00,490.71L285.50,490.39L286.00,491.25L286.50,491.37L287.00,490.38L287.50,491.36L288.00,490.11L288.50,490.96L289.00,491.36L289.50,490.57L290.00,490.27L290.50,491.59L291.00,490.33L291.50,491.10L292.00,490.36L292.50,491.14L293.00,491.65L293.50,490.77L294.00,490.59L294.50,490.10L295.00,490.26L295.50,490.69L296.00,491.08L296.50,491.20L297.00,491.11L297.50,491.33L298.00,491.10L298.50,492.05L299.00,490.91L299.50,490.99L300.00,489.90L300.50,490.66L301.00,491.18L301.50,490.74L302.00,491.49L302.50,491.23L303.00,491.76L303.50,490.37L304.00,490.73L304.50,491.47L305.00,491.00L305.50,490.58L306.00,490.77L306.50,490.81L307.00,491.33L307.50,491.24L308.00,490.93L308.50,490.58L309.00,491.32L309.50,491.44L310.00,490.49L310.50,491.36L311.00,490.51L311.50,490.86L312.00,490.60L312.50,490.23L313.00,490.67L313.50,490.64L314.00,491.35L314.50,491.25L315.00,490.69L315.50,490.31L316.00,490.37L316.50,489.98L317.00,490.82L317.50,490.86L318.00,490.52L318.50,490.94L319.00,490.97L319.50,491.38L320.00,490.52L320.50,491.38L321.00,490.71L321.50,491.52L322.00,490.46L322.50,491.35L323.00,490.55L323.50,491.57L324.00,491.08L324.50,490.39L325.00,491.21L325.50,490.84L326.00,491.05L326.50,491.81L327.00,490.69L327.50,490.61L328.00,491.23L328.50,490.49L329.00,491.02L329.50,491.05L330.00,490.55L330.50,490.74L331.00,489.33L331.50,490.72L332.00,489.32L332.50,488.04L333.00,485.65L333.50,476.99L333.80,468.75L334.00,464.44L334.10,462.07L334.25,459.60L334.40,459.46L334.50,460.09L334.55,461.22L334.70,462.14L335.00,469.37L335.50,480.21L336.00,486.62L336.50,489.64L337.00,489.08L337.50,489.67L338.00,489.96L338.50,490.93L339.00,490.69L339.50,490.80L340.00,490.79L340.50,491.11L341.00,490.47L341.50,490.57L342.00,490.51L342.50,490.87L343.00,490.10L343.50,490.54L344.00,491.74L344.50,490.81L345.00,490.49L345.50,489.96L346.00,490.32L346.50,489.96L347.00,488.80L347.40,484.57L347.50,483.65L347.70,480.76L347.85,479.01L348.00,477.67L348.15,478.64L348.30,480.62L348.50,482.08L348.60,483.67L349.00,483.81L349.50,472.74L349.80,461.02L349.95,456.60L350.00,456.31L350.10,455.27L350.25,457.24L350.40,460.09L350.50,464.05L350.70,470.48L351.00,477.83L351.15,479.65L351.30,477.86L351.45,476.97L351.50,476.22L351.60,474.48L351.70,472.10L351.90,467.35L352.00,465.92L352.15,462.12L352.30,461.82L352.45,462.92L352.50,462.80L352.60,465.20L352.90,473.35L353.00,476.36L353.50,482.40L354.00,482.98L354.50,483.03L355.00,484.65L355.50,486.40L356.00,488.38L356.50,488.94L357.00,489.29L357.50,489.42L358.00,490.15L358.50,489.46L359.00,487.63L359.30,485.15L359.50,482.22L359.60,479.85L359.75,478.93L359.90,477.93L360.00,478.74L360.05,478.88L360.20,481.23L360.50,484.42L361.00,486.73L361.50,482.07L361.60,480.56L361.90,474.00L362.00,472.26L362.05,471.73L362.20,470.37L362.35,470.99L362.50,474.14L362.80,479.58L363.00,483.15L363.50,481.36L363.90,467.34L364.00,462.63L364.20,452.26L364.35,445.15L364.50,443.08L364.65,444.59L364.80,449.18L365.00,457.55L365.10,462.17L365.40,469.00L365.50,470.53L365.55,471.05L365.70,471.31L365.85,471.77L366.00,470.28L366.30,463.64L366.40,460.00L366.50,456.65L366.70,448.82L366.85,444.02L367.00,442.41L367.15,444.90L367.30,449.96L367.50,460.01L367.60,464.76L368.00,479.45L368.50,487.21L369.00,489.13L369.50,488.87L370.00,490.01L370.50,490.57L371.00,490.12L371.50,489.66L372.00,490.49L372.50,490.07L373.00,490.82L373.50,490.89L374.00,491.00L374.50,490.80L375.00,489.99L375.50,491.27L376.00,490.11L376.50,491.24L377.00,490.93L377.50,490.49L378.00,490.59L378.50,490.74L379.00,491.56L379.50,490.72L380.00,491.31L380.50,489.80L381.00,490.98L381.50,490.81L382.00,491.38L382.50,491.10L383.00,491.44L383.50,490.49L384.00,491.02L384.50,490.67L385.00,491.20L385.50,491.12L386.00,490.37L386.50,491.32L387.00,491.67L387.50,490.74L388.00,491.39L388.50,491.10L389.00,490.53L389.50,491.26L390.00,490.54L390.50,491.20L391.00,490.29L391.50,490.35L392.00,491.11L392.50,491.00L393.00,491.25L393.50,490.82L394.00,490.42L394.50,491.50L395.00,490.51L395.50,491.45L396.00,491.25L396.50,491.63L397.00,489.99L397.50,490.84L398.00,490.76L398.50,491.14L399.00,490.40L399.50,491.72L400.00,490.81L400.50,489.88L401.00,490.96L401.50,490.77L402.00,490.48L402.50,491.08L403.00,490.71L403.50,490.28L404.00,490.56L404.50,490.44L405.00,490.68L405.50,490.31L406.00,490.28L406.50,489.50L407.00,489.51L407.50,489.48L408.00,489.80L408.50,487.66L409.00,486.61L409.50,486.08L410.00,485.15L410.50,483.38L411.00,481.24L411.50,481.18L412.00,480.59L412.50,480.64L413.00,481.12L413.50,482.91L414.00,484.35L414.50,485.92L415.00,486.25L415.50,487.52L416.00,488.82L416.50,489.97L417.00,490.15L417.50,489.87L418.00,490.62L418.50,490.07L419.00,490.39L419.50,490.48L420.00,490.38L420.50,490.48L421.00,491.08L421.50,490.89L422.00,489.79L422.50,491.30L423.00,491.01L423.50,490.38L424.00,490.90L424.50,491.19L425.00,491.42L425.50,490.64L426.00,490.45L426.50,490.30L427.00,490.87L427.50,490.46L428.00,491.34L428.50,490.84L429.00,491.20L429.50,490.85L430.00,490.61L430.50,490.48L431.00,491.35L431.50,490.40L432.00,491.14L432.50,491.37L433.00,491.01L433.50,491.56L434.00,490.94L434.50,490.83L435.00,491.03L435.50,490.73L436.00,491.09L436.50,490.95L437.00,491.56L437.50,490.94L438.00,491.32L438.50,491.15L439.00,491.00L439.50,490.88L440.00,491.66L440.50,491.62L441.00,491.09L441.50,490.77L442.00,490.82L442.50,490.59L443.00,490.42L443.50,490.76L444.00,490.98L444.50,491.41L445.00,491.37L445.50,491.17L446.00,490.86L446.50,490.88L447.00,490.97L447.50,491.04L448.00,490.71L448.50,490.89L449.00,490.85L449.50,490.85L450.00,491.21L450.50,491.41L451.00,490.77L451.50,490.81L452.00,491.07L452.50,491.16L453.00,490.02L453.50,491.30L454.00,491.07L454.50,490.87L455.00,491.47L455.50,490.93L456.00,490.23L456.50,490.59L457.00,490.72L457.50,490.74L458.00,490.94L458.50,490.58L459.00,491.05L459.50,491.16L460.00,490.94L460.50,490.61L461.00,490.85L461.50,490.70L462.00,491.84L462.50,490.49L463.00,490.00L463.50,490.43L464.00,491.12L464.50,491.34L465.00,490.87L465.50,491.40L466.00,490.68L466.50,491.21L467.00,490.59L467.50,490.42L468.00,491.84L468.50,490.87L469.00,491.28L469.50,491.58L470.00,491.25L470.50,491.08L471.00,490.56L471.50,491.63L472.00,490.55L472.50,490.14L473.00,490.74L473.50,490.76L474.00,491.00L474.50,491.48L475.00,490.77L475.50,490.83L476.00,490.68L476.50,489.91L477.00,490.69L477.50,490.81L478.00,490.34L478.50,491.56L479.00,491.47L479.50,491.15L480.00,491.27L480.50,490.70L481.00,491.13L481.50,490.26L482.00,490.35L482.50,490.67L483.00,491.15L483.50,490.73L484.00,490.65L484.50,491.44L485.00,490.85L485.50,490.70L486.00,490.90L486.50,490.33L487.00,490.48L487.50,491.34L488.00,490.94L488.50,491.34L489.00,490.75L489.50,491.36L490.00,490.61L490.50,490.83L491.00,490.59L491.50,491.05L492.00,491.61L492.50,490.25L493.00,491.07L493.50,490.42L494.00,490.81L494.50,490.71L495.00,490.23L495.50,490.85L496.00,490.41L496.50,491.62L497.00,490.63L497.50,491.10L498.00,491.05L498.50,490.99L499.00,490.85L499.50,490.30L500.00,491.77L500.50,490.98L501.00,491.30L501.50,490.51L502.00,491.17L502.50,490.80L503.00,491.16L503.50,490.71L504.00,490.57L504.50,491.16L505.00,490.97L505.50,491.59L506.00,490.87L506.50,490.64L507.00,491.23L507.50,490.52L508.00,491.84L508.50,490.11L509.00,476.58L509.50,472.19L510.00,476.60L510.50,479.69L511.00,481.76L511.50,482.90L512.00,484.48L512.50,485.64L513.00,486.29L513.50,485.42L514.00,487.76L514.50,487.25L515.00,486.91L515.50,487.64L516.00,488.47L516.50,488.37L517.00,488.24L517.50,488.31L518.00,489.38L518.50,488.86L519.00,489.23L519.50,489.02L520.00,489.03L520.50,489.88L521.00,490.45L521.50,489.78L522.00,489.29L522.50,489.83L523.00,490.10L523.50,489.26L524.00,490.77L524.50,490.01L525.00,490.68L525.50,490.47L526.00,490.49L526.50,489.94L527.00,491.00L527.50,490.87L528.00,491.34L528.50,490.50L529.00,490.92L529.50,490.57L530.00,491.22L530.50,490.94L531.00,490.37L531.50,490.90L532.00,490.58L532.50,490.63L533.00,491.02L533.50,491.53L534.00,490.47L534.50,490.83L535.00,490.49L535.50,491.76L536.00,491.62L536.50,491.83L537.00,491.30L537.50,490.50L538.00,490.71L538.50,490.96L539.00,490.90L539.50,490.64" fill="none" stroke="#111" stroke-width="1.3" stroke-linejoin="round"/>
<line x1="52.9" y1="495.2" x2="539.8" y2="495.2" stroke="#999" stroke-width="1.2"/>
<line x1="52.90" y1="495.2" x2="52.90" y2="497.8" stroke="#888" stroke-width="0.9"/>
<line x1="61.58" y1="495.2" x2="61.58" y2="497.8" stroke="#888" stroke-width="0.9"/>
<line x1="70.26" y1="495.2" x2="70.26" y2="497.8" stroke="#888" stroke-width="0.9"/>
<line x1="78.94" y1="495.2" x2="78.94" y2="497.8" stroke="#888" stroke-width="0.9"/>
<line x1="87.62" y1="495.2" x2="87.62" y2="497.8" stroke="#888" stroke-width="0.9"/>
<line x1="96.30" y1="495.2" x2="96.30" y2="497.8" stroke="#888" stroke-width="0.9"/>
<line x1="104.98" y1="495.2" x2="104.98" y2="497.8" stroke="#888" stroke-width="0.9"/>
<line x1="113.66" y1="495.2" x2="113.66" y2="497.8" stroke="#888" stroke-width="0.9"/>
<line x1="122.34" y1="495.2" x2="122.34" y2="497.8" stroke="#888" stroke-width="0.9"/>
<line x1="131.02" y1="495.2" x2="131.02" y2="497.8" stroke="#888" stroke-width="0.9"/>
<line x1="139.70" y1="495.2" x2="139.70" y2="497.8" stroke="#888" stroke-width="0.9"/>
<line x1="148.38" y1="495.2" x2="148.38" y2="497.8" stroke="#888" stroke-width="0.9"/>
<line x1="157.06" y1="495.2" x2="157.06" y2="497.8" stroke="#888" stroke-width="0.9"/>
<line x1="165.74" y1="495.2" x2="165.74" y2="497.8" stroke="#888" stroke-width="0.9"/>
<line x1="174.42" y1="495.2" x2="174.42" y2="497.8" stroke="#888" stroke-width="0.9"/>
<line x1="183.10" y1="495.2" x2="183.10" y2="497.8" stroke="#888" stroke-width="0.9"/>
<line x1="191.78" y1="495.2" x2="191.78" y2="497.8" stroke="#888" stroke-width="0.9"/>
<line x1="200.46" y1="495.2" x2="200.46" y2="497.8" stroke="#888" stroke-width="0.9"/>
<line x1="209.14" y1="495.2" x2="209.14" y2="497.8" stroke="#888" stroke-width="0.9"/>
<line x1="217.82" y1="495.2" x2="217.82" y2="497.8" stroke="#888" stroke-width="0.9"/>
<line x1="226.50" y1="495.2" x2="226.50" y2="497.8" stroke="#888" stroke-width="0.9"/>
<line x1="235.18" y1="495.2" x2="235.18" y2="497.8" stroke="#888" stroke-width="0.9"/>
<line x1="243.86" y1="495.2" x2="243.86" y2="497.8" stroke="#888" stroke-width="0.9"/>
<line x1="252.54" y1="495.2" x2="252.54" y2="497.8" stroke="#888" stroke-width="0.9"/>
<line x1="261.22" y1="495.2" x2="261.22" y2="497.8" stroke="#888" stroke-width="0.9"/>
<line x1="269.90" y1="495.2" x2="269.90" y2="497.8" stroke="#888" stroke-width="0.9"/>
<line x1="278.58" y1="495.2" x2="278.58" y2="497.8" stroke="#888" stroke-width="0.9"/>
<line x1="287.26" y1="495.2" x2="287.26" y2="497.8" stroke="#888" stroke-width="0.9"/>
<line x1="295.94" y1="495.2" x2="295.94" y2="497.8" stroke="#888" stroke-width="0.9"/>
<line x1="304.62" y1="495.2" x2="304.62" y2="497.8" stroke="#888" stroke-width="0.9"/>
<line x1="313.30" y1="495.2" x2="313.30" y2="497.8" stroke="#888" stroke-width="0.9"/>
<line x1="321.98" y1="495.2" x2="321.98" y2="497.8" stroke="#888" stroke-width="0.9"/>
<line x1="330.66" y1="495.2" x2="330.66" y2="497.8" stroke="#888" stroke-width="0.9"/>
<line x1="339.34" y1="495.2" x2="339.34" y2="497.8" stroke="#888" stroke-width="0.9"/>
<line x1="348.02" y1="495.2" x2="348.02" y2="497.8" stroke="#888" stroke-width="0.9"/>
<line x1="356.70" y1="495.2" x2="356.70" y2="497.8" stroke="#888" stroke-width="0.9"/>
<line x1="365.38" y1="495.2" x2="365.38" y2="497.8" stroke="#888" stroke-width="0.9"/>
<line x1="374.06" y1="495.2" x2="374.06" y2="497.8" stroke="#888" stroke-width="0.9"/>
<line x1="382.74" y1="495.2" x2="382.74" y2="497.8" stroke="#888" stroke-width="0.9"/>
<line x1="391.42" y1="495.2" x2="391.42" y2="497.8" stroke="#888" stroke-width="0.9"/>
<line x1="400.10" y1="495.2" x2="400.10" y2="497.8" stroke="#888" stroke-width="0.9"/>
<line x1="408.78" y1="495.2" x2="408.78" y2="497.8" stroke="#888" stroke-width="0.9"/>
<line x1="417.46" y1="495.2" x2="417.46" y2="497.8" stroke="#888" stroke-width="0.9"/>
<line x1="426.14" y1="495.2" x2="426.14" y2="497.8" stroke="#888" stroke-width="0.9"/>
<line x1="434.82" y1="495.2" x2="434.82" y2="497.8" stroke="#888" stroke-width="0.9"/>
<line x1="443.50" y1="495.2" x2="443.50" y2="497.8" stroke="#888" stroke-width="0.9"/>
<line x1="452.18" y1="495.2" x2="452.18" y2="497.8" stroke="#888" stroke-width="0.9"/>
<line x1="460.86" y1="495.2" x2="460.86" y2="497.8" stroke="#888" stroke-width="0.9"/>
<line x1="469.54" y1="495.2" x2="469.54" y2="497.8" stroke="#888" stroke-width="0.9"/>
<line x1="478.22" y1="495.2" x2="478.22" y2="497.8" stroke="#888" stroke-width="0.9"/>
<line x1="486.90" y1="495.2" x2="486.90" y2="497.8" stroke="#888" stroke-width="0.9"/>
<line x1="495.58" y1="495.2" x2="495.58" y2="497.8" stroke="#888" stroke-width="0.9"/>
<line x1="504.26" y1="495.2" x2="504.26" y2="497.8" stroke="#888" stroke-width="0.9"/>
<line x1="512.94" y1="495.2" x2="512.94" y2="497.8" stroke="#888" stroke-width="0.9"/>
<line x1="521.62" y1="495.2" x2="521.62" y2="497.8" stroke="#888" stroke-width="0.9"/>
<line x1="530.30" y1="495.2" x2="530.30" y2="497.8" stroke="#888" stroke-width="0.9"/>
<line x1="538.98" y1="495.2" x2="538.98" y2="497.8" stroke="#888" stroke-width="0.9"/>
<text x="71.86" y="506" text-anchor="middle" font-family="'Liberation Serif', 'Times New Roman', serif" font-weight="bold" font-size="7.8" fill="#444">8.9</text>
<text x="106.58" y="506" text-anchor="middle" font-family="'Liberation Serif', 'Times New Roman', serif" font-weight="bold" font-size="7.8" fill="#444">8.7</text>
<text x="141.30" y="506" text-anchor="middle" font-family="'Liberation Serif', 'Times New Roman', serif" font-weight="bold" font-size="7.8" fill="#444">8.5</text>
<text x="176.02" y="506" text-anchor="middle" font-family="'Liberation Serif', 'Times New Roman', serif" font-weight="bold" font-size="7.8" fill="#444">8.3</text>
<text x="210.74" y="506" text-anchor="middle" font-family="'Liberation Serif', 'Times New Roman', serif" font-weight="bold" font-size="7.8" fill="#444">8.1</text>
<text x="245.46" y="506" text-anchor="middle" font-family="'Liberation Serif', 'Times New Roman', serif" font-weight="bold" font-size="7.8" fill="#444">7.9</text>
<text x="280.18" y="506" text-anchor="middle" font-family="'Liberation Serif', 'Times New Roman', serif" font-weight="bold" font-size="7.8" fill="#444">7.7</text>
<text x="314.90" y="506" text-anchor="middle" font-family="'Liberation Serif', 'Times New Roman', serif" font-weight="bold" font-size="7.8" fill="#444">7.5</text>
<text x="349.62" y="506" text-anchor="middle" font-family="'Liberation Serif', 'Times New Roman', serif" font-weight="bold" font-size="7.8" fill="#444">7.3</text>
<text x="384.34" y="506" text-anchor="middle" font-family="'Liberation Serif', 'Times New Roman', serif" font-weight="bold" font-size="7.8" fill="#444">7.1</text>
<text x="419.06" y="506" text-anchor="middle" font-family="'Liberation Serif', 'Times New Roman', serif" font-weight="bold" font-size="7.8" fill="#444">6.9</text>
<text x="453.78" y="506" text-anchor="middle" font-family="'Liberation Serif', 'Times New Roman', serif" font-weight="bold" font-size="7.8" fill="#444">6.7</text>
<text x="488.50" y="506" text-anchor="middle" font-family="'Liberation Serif', 'Times New Roman', serif" font-weight="bold" font-size="7.8" fill="#444">6.5</text>
<text x="523.22" y="506" text-anchor="middle" font-family="'Liberation Serif', 'Times New Roman', serif" font-weight="bold" font-size="7.8" fill="#444">6.3</text>
<line x1="278" y1="237.4" x2="272.63" y2="243.33" stroke="#000" stroke-width="1.8"/><path d="M268.4,248L270.37,240.61L275.56,245.31Z" fill="#000"/>
<line x1="293" y1="237" x2="287.37" y2="242.86" stroke="#000" stroke-width="1.8"/><path d="M283,247.4L285.19,240.07L290.24,244.92Z" fill="#000"/>
<line x1="425" y1="234" x2="419.82" y2="239.73" stroke="#000" stroke-width="1.8"/><path d="M415.6,244.4L417.56,237.01L422.76,241.70Z" fill="#000"/>
<line x1="438" y1="245.4" x2="432.76" y2="250.86" stroke="#000" stroke-width="1.8"/><path d="M428.4,255.4L430.58,248.07L435.63,252.92Z" fill="#000"/></svg></body></html>
